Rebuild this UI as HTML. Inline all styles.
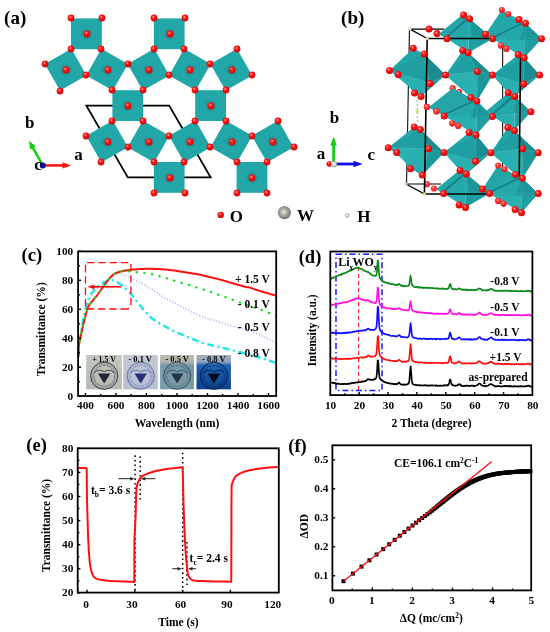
<!DOCTYPE html>
<html><head><meta charset="utf-8"><title>Figure</title>
<style>html,body{margin:0;padding:0;background:#fff}svg{display:block}</style></head>
<body>
<svg width="550" height="632" viewBox="0 0 550 632">
<defs>
<radialGradient id="gO" cx="40%" cy="35%" r="65%"><stop offset="0" stop-color="#ffb0a0"/><stop offset="0.35" stop-color="#ff1a1a"/><stop offset="1" stop-color="#d80000"/></radialGradient>
<radialGradient id="gOb" cx="40%" cy="35%" r="65%"><stop offset="0" stop-color="#ffc0b8"/><stop offset="0.35" stop-color="#ff3a38"/><stop offset="1" stop-color="#e42020"/></radialGradient>
<radialGradient id="gW" cx="45%" cy="45%" r="60%"><stop offset="0" stop-color="#f0f0e8"/><stop offset="0.45" stop-color="#a8a8a0"/><stop offset="1" stop-color="#6a6a62"/></radialGradient>
<radialGradient id="gH" cx="45%" cy="45%" r="60%"><stop offset="0" stop-color="#ffffff"/><stop offset="1" stop-color="#b0b0b0"/></radialGradient>
<radialGradient id="gWc" cx="50%" cy="50%" r="50%"><stop offset="0" stop-color="#2a8f92"/><stop offset="0.6" stop-color="#239ea0"/><stop offset="1" stop-color="#22a7a8" stop-opacity="0"/></radialGradient>
</defs>
<rect width="550" height="632" fill="#fff"/>
<g id="pa">
<polygon points="127.8,177.4 210.6,177.4 169.2,105.6 86.4,105.6" fill="none" stroke="#000" stroke-width="1.8"/>
<polygon points="71.0,18.4 101.8,18.4 101.8,49.2 71.0,49.2" fill="#22a7a8"/>
<circle cx="86.4" cy="33.8" r="7.5" fill="url(#gWc)"/>
<circle cx="86.7" cy="34.0" r="5.3" fill="#2b8a90" opacity="0.45"/>
<polygon points="153.8,18.4 184.6,18.4 184.6,49.2 153.8,49.2" fill="#22a7a8"/>
<circle cx="169.2" cy="33.8" r="7.5" fill="url(#gWc)"/>
<circle cx="169.5" cy="34.0" r="5.3" fill="#2b8a90" opacity="0.45"/>
<polygon points="71.4,48.8 86.6,75.4 60.0,90.6 44.8,64.0" fill="#22a7a8"/>
<circle cx="65.7" cy="69.7" r="7.5" fill="url(#gWc)"/>
<circle cx="66.0" cy="69.9" r="5.3" fill="#2b8a90" opacity="0.45"/>
<polygon points="101.4,48.8 128.0,64.0 112.8,90.6 86.2,75.4" fill="#22a7a8"/>
<circle cx="107.1" cy="69.7" r="7.5" fill="url(#gWc)"/>
<circle cx="107.4" cy="69.9" r="5.3" fill="#2b8a90" opacity="0.45"/>
<polygon points="154.2,48.8 169.4,75.4 142.8,90.6 127.6,64.0" fill="#22a7a8"/>
<circle cx="148.5" cy="69.7" r="7.5" fill="url(#gWc)"/>
<circle cx="148.8" cy="69.9" r="5.3" fill="#2b8a90" opacity="0.45"/>
<polygon points="184.2,48.8 210.8,64.0 195.6,90.6 169.0,75.4" fill="#22a7a8"/>
<circle cx="189.9" cy="69.7" r="7.5" fill="url(#gWc)"/>
<circle cx="190.2" cy="69.9" r="5.3" fill="#2b8a90" opacity="0.45"/>
<polygon points="237.0,48.8 252.2,75.4 225.6,90.6 210.4,64.0" fill="#22a7a8"/>
<circle cx="231.3" cy="69.7" r="7.5" fill="url(#gWc)"/>
<circle cx="231.6" cy="69.9" r="5.3" fill="#2b8a90" opacity="0.45"/>
<polygon points="112.4,90.2 143.2,90.2 143.2,121.0 112.4,121.0" fill="#22a7a8"/>
<circle cx="127.8" cy="105.6" r="7.5" fill="url(#gWc)"/>
<circle cx="128.1" cy="105.8" r="5.3" fill="#2b8a90" opacity="0.45"/>
<polygon points="195.2,90.2 226.0,90.2 226.0,121.0 195.2,121.0" fill="#22a7a8"/>
<circle cx="210.6" cy="105.6" r="7.5" fill="url(#gWc)"/>
<circle cx="210.9" cy="105.8" r="5.3" fill="#2b8a90" opacity="0.45"/>
<polygon points="112.8,120.6 128.0,147.2 101.4,162.4 86.2,135.8" fill="#22a7a8"/>
<circle cx="107.1" cy="141.5" r="7.5" fill="url(#gWc)"/>
<circle cx="107.4" cy="141.7" r="5.3" fill="#2b8a90" opacity="0.45"/>
<polygon points="142.8,120.6 169.4,135.8 154.2,162.4 127.6,147.2" fill="#22a7a8"/>
<circle cx="148.5" cy="141.5" r="7.5" fill="url(#gWc)"/>
<circle cx="148.8" cy="141.7" r="5.3" fill="#2b8a90" opacity="0.45"/>
<polygon points="195.6,120.6 210.8,147.2 184.2,162.4 169.0,135.8" fill="#22a7a8"/>
<circle cx="189.9" cy="141.5" r="7.5" fill="url(#gWc)"/>
<circle cx="190.2" cy="141.7" r="5.3" fill="#2b8a90" opacity="0.45"/>
<polygon points="225.6,120.6 252.2,135.8 237.0,162.4 210.4,147.2" fill="#22a7a8"/>
<circle cx="231.3" cy="141.5" r="7.5" fill="url(#gWc)"/>
<circle cx="231.6" cy="141.7" r="5.3" fill="#2b8a90" opacity="0.45"/>
<polygon points="278.4,120.6 293.6,147.2 267.0,162.4 251.8,135.8" fill="#22a7a8"/>
<circle cx="272.7" cy="141.5" r="7.5" fill="url(#gWc)"/>
<circle cx="273.0" cy="141.7" r="5.3" fill="#2b8a90" opacity="0.45"/>
<polygon points="153.8,162.0 184.6,162.0 184.6,192.8 153.8,192.8" fill="#22a7a8"/>
<circle cx="169.2" cy="177.4" r="7.5" fill="url(#gWc)"/>
<circle cx="169.5" cy="177.6" r="5.3" fill="#2b8a90" opacity="0.45"/>
<polygon points="236.6,162.0 267.4,162.0 267.4,192.8 236.6,192.8" fill="#22a7a8"/>
<circle cx="252.0" cy="177.4" r="7.5" fill="url(#gWc)"/>
<circle cx="252.3" cy="177.6" r="5.3" fill="#2b8a90" opacity="0.45"/>
<circle cx="45" cy="64" r="3.4" fill="url(#gO)"/>
<circle cx="60" cy="91" r="3.4" fill="url(#gO)"/>
<circle cx="66" cy="70" r="3.4" fill="url(#gO)"/>
<circle cx="71" cy="18" r="3.4" fill="url(#gO)"/>
<circle cx="71" cy="49" r="3.4" fill="url(#gO)"/>
<circle cx="86" cy="75" r="3.4" fill="url(#gO)"/>
<circle cx="86" cy="136" r="3.4" fill="url(#gO)"/>
<circle cx="87" cy="34" r="3.4" fill="url(#gO)"/>
<circle cx="101" cy="49" r="3.4" fill="url(#gO)"/>
<circle cx="101" cy="162" r="3.4" fill="url(#gO)"/>
<circle cx="102" cy="18" r="3.4" fill="url(#gO)"/>
<circle cx="108" cy="70" r="3.4" fill="url(#gO)"/>
<circle cx="108" cy="142" r="3.4" fill="url(#gO)"/>
<circle cx="112" cy="90" r="3.4" fill="url(#gO)"/>
<circle cx="112" cy="121" r="3.4" fill="url(#gO)"/>
<circle cx="128" cy="64" r="3.4" fill="url(#gO)"/>
<circle cx="128" cy="106" r="3.4" fill="url(#gO)"/>
<circle cx="128" cy="147" r="3.4" fill="url(#gO)"/>
<circle cx="143" cy="90" r="3.4" fill="url(#gO)"/>
<circle cx="143" cy="121" r="3.4" fill="url(#gO)"/>
<circle cx="149" cy="70" r="3.4" fill="url(#gO)"/>
<circle cx="149" cy="142" r="3.4" fill="url(#gO)"/>
<circle cx="154" cy="18" r="3.4" fill="url(#gO)"/>
<circle cx="154" cy="49" r="3.4" fill="url(#gO)"/>
<circle cx="154" cy="162" r="3.4" fill="url(#gO)"/>
<circle cx="154" cy="193" r="3.4" fill="url(#gO)"/>
<circle cx="169" cy="75" r="3.4" fill="url(#gO)"/>
<circle cx="169" cy="136" r="3.4" fill="url(#gO)"/>
<circle cx="170" cy="34" r="3.4" fill="url(#gO)"/>
<circle cx="170" cy="178" r="3.4" fill="url(#gO)"/>
<circle cx="184" cy="49" r="3.4" fill="url(#gO)"/>
<circle cx="184" cy="162" r="3.4" fill="url(#gO)"/>
<circle cx="185" cy="18" r="3.4" fill="url(#gO)"/>
<circle cx="185" cy="193" r="3.4" fill="url(#gO)"/>
<circle cx="190" cy="70" r="3.4" fill="url(#gO)"/>
<circle cx="190" cy="142" r="3.4" fill="url(#gO)"/>
<circle cx="195" cy="90" r="3.4" fill="url(#gO)"/>
<circle cx="195" cy="121" r="3.4" fill="url(#gO)"/>
<circle cx="210" cy="64" r="3.4" fill="url(#gO)"/>
<circle cx="210" cy="147" r="3.4" fill="url(#gO)"/>
<circle cx="211" cy="106" r="3.4" fill="url(#gO)"/>
<circle cx="226" cy="90" r="3.4" fill="url(#gO)"/>
<circle cx="226" cy="121" r="3.4" fill="url(#gO)"/>
<circle cx="232" cy="70" r="3.4" fill="url(#gO)"/>
<circle cx="232" cy="142" r="3.4" fill="url(#gO)"/>
<circle cx="237" cy="49" r="3.4" fill="url(#gO)"/>
<circle cx="237" cy="162" r="3.4" fill="url(#gO)"/>
<circle cx="237" cy="193" r="3.4" fill="url(#gO)"/>
<circle cx="252" cy="75" r="3.4" fill="url(#gO)"/>
<circle cx="252" cy="136" r="3.4" fill="url(#gO)"/>
<circle cx="252" cy="178" r="3.4" fill="url(#gO)"/>
<circle cx="267" cy="162" r="3.4" fill="url(#gO)"/>
<circle cx="267" cy="193" r="3.4" fill="url(#gO)"/>
<circle cx="273" cy="142" r="3.4" fill="url(#gO)"/>
<circle cx="278" cy="121" r="3.4" fill="url(#gO)"/>
<circle cx="294" cy="147" r="3.4" fill="url(#gO)"/>
</g>
<g id="axa">
<line x1="42.8" y1="165.4" x2="64" y2="165.4" stroke="#ff1010" stroke-width="2.5"/><polygon points="71,165.4 62.5,162.2 62.5,168.6" fill="#ff1010"/>
<line x1="42.8" y1="165.4" x2="32.5" y2="147" stroke="#10d010" stroke-width="2.5"/><polygon points="29,140.8 30.2,149.6 35.8,146.4" fill="#10d010"/>
<circle cx="42.8" cy="165.4" r="3" fill="#0a0a90"/>
</g>
<text x="29.8" y="128.0" font-size="17" text-anchor="middle" font-family="Liberation Serif, serif" font-weight="bold" >b</text>
<text x="78.4" y="159.5" font-size="17" text-anchor="middle" font-family="Liberation Serif, serif" font-weight="bold" >a</text>
<text x="38.0" y="169.5" font-size="17" text-anchor="middle" font-family="Liberation Serif, serif" font-weight="bold" >c</text>
<text x="15.2" y="23.5" font-size="19" text-anchor="middle" font-family="Liberation Serif, serif" font-weight="bold" >(a)</text>
<text x="352.7" y="23.8" font-size="19" text-anchor="middle" font-family="Liberation Serif, serif" font-weight="bold" >(b)</text>
<circle cx="220.7" cy="214.9" r="3.2" fill="url(#gO)"/>
<circle cx="284.4" cy="212.6" r="6.6" fill="url(#gW)"/>
<circle cx="347.3" cy="215.6" r="2.1" fill="url(#gH)" stroke="#999" stroke-width="0.5"/>
<text x="236.3" y="221.5" font-size="17" text-anchor="middle" font-family="Liberation Serif, serif" font-weight="bold" >O</text>
<text x="305.5" y="220.5" font-size="17" text-anchor="middle" font-family="Liberation Serif, serif" font-weight="bold" >W</text>
<text x="363.8" y="221.5" font-size="17" text-anchor="middle" font-family="Liberation Serif, serif" font-weight="bold" >H</text>
<g id="pb">
<line x1="410.0" y1="29.1" x2="444.0" y2="29.1" stroke="#000" stroke-width="1.2" />
<line x1="409.5" y1="29.1" x2="406.5" y2="184.0" stroke="#222" stroke-width="1.2" />
<line x1="406.0" y1="184.0" x2="441.0" y2="184.0" stroke="#000" stroke-width="1.2" />
<line x1="502.6" y1="46.0" x2="502.6" y2="185.0" stroke="#222" stroke-width="1.2" />
<circle cx="429.0" cy="29.1" r="3.5" fill="url(#gO)"/>
<circle cx="437.0" cy="33.6" r="3.5" fill="url(#gO)"/>
<polygon points="492.7,38.7 525.5,23.3 501.8,10.0 485.5,34.2" fill="#23a6a8" />
<polygon points="492.7,38.7 525.5,23.3 523.2,22.0 490.4,37.4" fill="#16838a" />
<polygon points="492.7,38.7 525.5,23.3 524.2,57.8" fill="#28b0b1" />
<polygon points="525.5,23.3 541.5,38.7 524.2,57.8" fill="#1f9ea1" />
<polygon points="492.7,38.7 525.5,23.3 519.1,40.5" fill="#23a7a8" />
<polygon points="525.5,23.3 541.5,38.7 519.1,40.5" fill="#1b9699" />
<line x1="525.5" y1="23.3" x2="524.2" y2="57.8" stroke="#5cc4c2" stroke-width="0.5" opacity="0.6"/>
<line x1="492.7" y1="38.7" x2="541.5" y2="38.7" stroke="#5cc4c2" stroke-width="0.5" opacity="0.5"/>
<polygon points="492.5,116.3 515.0,96.5 508.3,92.7 485.3,111.8" fill="#23a6a8" />
<polygon points="492.5,116.3 515.0,96.5 512.7,95.2 490.2,115.0" fill="#16838a" />
<polygon points="492.5,116.3 515.0,96.5 514.4,130.3" fill="#28b0b1" />
<polygon points="515.0,96.5 530.9,111.8 514.4,130.3" fill="#1f9ea1" />
<polygon points="492.5,116.3 515.0,96.5 513.7,113.4" fill="#23a7a8" />
<polygon points="515.0,96.5 530.9,111.8 513.7,113.4" fill="#1b9699" />
<line x1="515.0" y1="96.5" x2="514.4" y2="130.3" stroke="#5cc4c2" stroke-width="0.5" opacity="0.6"/>
<line x1="492.5" y1="116.3" x2="530.9" y2="111.8" stroke="#5cc4c2" stroke-width="0.5" opacity="0.5"/>
<polygon points="489.5,193.7 522.0,178.3 497.8,165.5 482.4,189.3" fill="#23a6a8" />
<polygon points="489.5,193.7 522.0,178.3 519.7,177.0 487.2,192.4" fill="#16838a" />
<polygon points="489.5,193.7 522.0,178.3 521.4,212.4" fill="#28b0b1" />
<polygon points="522.0,178.3 537.9,193.7 521.4,212.4" fill="#1f9ea1" />
<polygon points="489.5,193.7 522.0,178.3 515.7,195.4" fill="#23a7a8" />
<polygon points="522.0,178.3 537.9,193.7 515.7,195.4" fill="#1b9699" />
<line x1="522.0" y1="178.3" x2="521.4" y2="212.4" stroke="#5cc4c2" stroke-width="0.5" opacity="0.6"/>
<line x1="489.5" y1="193.7" x2="537.9" y2="193.7" stroke="#5cc4c2" stroke-width="0.5" opacity="0.5"/>
<circle cx="501.8" cy="10.0" r="3.1" fill="url(#gOb)"/>
<circle cx="508.2" cy="14.0" r="3.1" fill="url(#gOb)"/>
<circle cx="501.0" cy="45.5" r="3.1" fill="url(#gOb)"/>
<circle cx="506.4" cy="48.7" r="3.1" fill="url(#gOb)"/>
<circle cx="452.7" cy="88.2" r="3.1" fill="url(#gOb)"/>
<circle cx="459.1" cy="91.8" r="3.1" fill="url(#gOb)"/>
<circle cx="452.4" cy="123.3" r="3.1" fill="url(#gOb)"/>
<circle cx="458.2" cy="125.8" r="3.1" fill="url(#gOb)"/>
<circle cx="498.2" cy="165.5" r="3.1" fill="url(#gOb)"/>
<circle cx="504.5" cy="169.1" r="3.1" fill="url(#gOb)"/>
<circle cx="498.2" cy="200.9" r="3.1" fill="url(#gOb)"/>
<circle cx="503.6" cy="203.6" r="3.1" fill="url(#gOb)"/>
<circle cx="426.9" cy="106.9" r="3.1" fill="url(#gOb)"/>
<circle cx="436.4" cy="111.3" r="3.1" fill="url(#gOb)"/>
<circle cx="485.5" cy="34.2" r="3.1" fill="url(#gOb)"/>
<circle cx="482.4" cy="189.1" r="3.1" fill="url(#gOb)"/>
<circle cx="426.9" cy="184.2" r="3.1" fill="url(#gOb)"/>
<circle cx="434.0" cy="188.5" r="3.1" fill="url(#gOb)"/>
<line x1="417.3" y1="100.0" x2="417.3" y2="124.0" stroke="#666" stroke-width="0.6" stroke-dasharray="2,2"/>
<circle cx="417.3" cy="111.8" r="1.6" fill="#e8e870" stroke="#aaa" stroke-width="0.4"/>
<polygon points="389.5,70.4 413.3,48.2 424.2,54.0 445.5,75.1 430.0,83.6 421.0,96.4 414.5,93.1 398.2,74.5" fill="#22a7a8" />
<polygon points="389.5,70.4 424.2,54.0 430.0,83.6" fill="#1f9fa1" />
<polygon points="424.2,54.0 445.5,75.1 430.0,83.6" fill="#198d91" />
<polygon points="389.5,70.4 430.0,83.6 421.0,96.4" fill="#29b1b2" />
<polygon points="430.0,83.6 445.5,75.1 421.0,96.4" fill="#1c979a" />
<line x1="430.0" y1="83.6" x2="389.5" y2="70.4" stroke="#5cc4c2" stroke-width="0.5" opacity="0.7"/>
<line x1="430.0" y1="83.6" x2="445.5" y2="75.1" stroke="#5cc4c2" stroke-width="0.5" opacity="0.7"/>
<line x1="430.0" y1="83.6" x2="424.2" y2="54.0" stroke="#5cc4c2" stroke-width="0.5" opacity="0.7"/>
<line x1="430.0" y1="83.6" x2="421.0" y2="96.4" stroke="#5cc4c2" stroke-width="0.5" opacity="0.7"/>
<polygon points="388.2,147.8 414.2,126.9 420.4,129.6 444.0,152.4 422.2,175.1 410.5,168.7 396.7,152.4" fill="#22a7a8" />
<polygon points="388.2,147.8 420.4,129.6 428.7,148.7" fill="#1f9fa1" />
<polygon points="420.4,129.6 444.0,152.4 428.7,148.7" fill="#198d91" />
<polygon points="388.2,147.8 428.7,148.7 422.2,175.1" fill="#29b1b2" />
<polygon points="428.7,148.7 444.0,152.4 422.2,175.1" fill="#1c979a" />
<line x1="428.7" y1="148.7" x2="388.2" y2="147.8" stroke="#5cc4c2" stroke-width="0.5" opacity="0.7"/>
<line x1="428.7" y1="148.7" x2="444.0" y2="152.4" stroke="#5cc4c2" stroke-width="0.5" opacity="0.7"/>
<line x1="428.7" y1="148.7" x2="420.4" y2="129.6" stroke="#5cc4c2" stroke-width="0.5" opacity="0.7"/>
<line x1="428.7" y1="148.7" x2="422.2" y2="175.1" stroke="#5cc4c2" stroke-width="0.5" opacity="0.7"/>
<polygon points="447.0,38.7 469.6,18.7 462.6,14.5 438.5,34.2" fill="#23a6a8" />
<polygon points="447.0,38.7 469.6,18.7 467.3,17.4 444.7,37.4" fill="#16838a" />
<polygon points="447.0,38.7 469.6,18.7 468.2,52.7" fill="#28b0b1" />
<polygon points="469.6,18.7 492.7,38.7 468.2,52.7" fill="#1f9ea1" />
<polygon points="447.0,38.7 469.6,18.7 471.9,35.7" fill="#23a7a8" />
<polygon points="469.6,18.7 492.7,38.7 471.9,35.7" fill="#1b9699" />
<line x1="469.6" y1="18.7" x2="468.2" y2="52.7" stroke="#5cc4c2" stroke-width="0.5" opacity="0.6"/>
<line x1="447.0" y1="38.7" x2="492.7" y2="38.7" stroke="#5cc4c2" stroke-width="0.5" opacity="0.5"/>
<polygon points="445.5,75.1 462.7,50.5 468.2,52.7 492.4,75.1 476.9,100.9 470.9,97.6" fill="#22a7a8" />
<polygon points="445.5,75.1 468.2,52.7 477.3,71.5" fill="#1f9fa1" />
<polygon points="468.2,52.7 492.4,75.1 477.3,71.5" fill="#198d91" />
<polygon points="445.5,75.1 477.3,71.5 476.9,100.9" fill="#29b1b2" />
<polygon points="477.3,71.5 492.4,75.1 476.9,100.9" fill="#1c979a" />
<line x1="477.3" y1="71.5" x2="445.5" y2="75.1" stroke="#5cc4c2" stroke-width="0.5" opacity="0.7"/>
<line x1="477.3" y1="71.5" x2="492.4" y2="75.1" stroke="#5cc4c2" stroke-width="0.5" opacity="0.7"/>
<line x1="477.3" y1="71.5" x2="468.2" y2="52.7" stroke="#5cc4c2" stroke-width="0.5" opacity="0.7"/>
<line x1="477.3" y1="71.5" x2="476.9" y2="100.9" stroke="#5cc4c2" stroke-width="0.5" opacity="0.7"/>
<polygon points="492.4,75.1 518.2,54.5 524.2,57.8 539.6,75.1 523.6,84.0 514.9,96.4 508.2,92.7" fill="#22a7a8" />
<polygon points="492.4,75.1 524.2,57.8 523.6,84.0" fill="#1f9fa1" />
<polygon points="524.2,57.8 539.6,75.1 523.6,84.0" fill="#198d91" />
<polygon points="492.4,75.1 523.6,84.0 514.9,96.4" fill="#29b1b2" />
<polygon points="523.6,84.0 539.6,75.1 514.9,96.4" fill="#1c979a" />
<line x1="523.6" y1="84.0" x2="492.4" y2="75.1" stroke="#5cc4c2" stroke-width="0.5" opacity="0.7"/>
<line x1="523.6" y1="84.0" x2="539.6" y2="75.1" stroke="#5cc4c2" stroke-width="0.5" opacity="0.7"/>
<line x1="523.6" y1="84.0" x2="524.2" y2="57.8" stroke="#5cc4c2" stroke-width="0.5" opacity="0.7"/>
<line x1="523.6" y1="84.0" x2="514.9" y2="96.4" stroke="#5cc4c2" stroke-width="0.5" opacity="0.7"/>
<polygon points="444.2,116.0 476.9,100.9 452.7,88.2 428.3,107.6" fill="#23a6a8" />
<polygon points="444.2,116.0 476.9,100.9 474.6,99.6 441.9,114.7" fill="#16838a" />
<polygon points="444.2,116.0 476.9,100.9 476.0,134.9" fill="#28b0b1" />
<polygon points="476.9,100.9 492.4,116.4 476.0,134.9" fill="#1f9ea1" />
<polygon points="444.2,116.0 476.9,100.9 470.3,117.9" fill="#23a7a8" />
<polygon points="476.9,100.9 492.4,116.4 470.3,117.9" fill="#1b9699" />
<line x1="476.9" y1="100.9" x2="476.0" y2="134.9" stroke="#5cc4c2" stroke-width="0.5" opacity="0.6"/>
<line x1="444.2" y1="116.0" x2="492.4" y2="116.4" stroke="#5cc4c2" stroke-width="0.5" opacity="0.5"/>
<polygon points="444.0,152.4 469.1,132.4 476.0,135.1 490.9,152.7 475.5,161.3 466.4,174.0 460.0,170.4" fill="#22a7a8" />
<polygon points="444.0,152.4 476.0,135.1 475.5,161.3" fill="#1f9fa1" />
<polygon points="476.0,135.1 490.9,152.7 475.5,161.3" fill="#198d91" />
<polygon points="444.0,152.4 475.5,161.3 466.4,174.0" fill="#29b1b2" />
<polygon points="475.5,161.3 490.9,152.7 466.4,174.0" fill="#1c979a" />
<line x1="475.5" y1="161.3" x2="444.0" y2="152.4" stroke="#5cc4c2" stroke-width="0.5" opacity="0.7"/>
<line x1="475.5" y1="161.3" x2="490.9" y2="152.7" stroke="#5cc4c2" stroke-width="0.5" opacity="0.7"/>
<line x1="475.5" y1="161.3" x2="476.0" y2="135.1" stroke="#5cc4c2" stroke-width="0.5" opacity="0.7"/>
<line x1="475.5" y1="161.3" x2="466.4" y2="174.0" stroke="#5cc4c2" stroke-width="0.5" opacity="0.7"/>
<polygon points="490.9,152.7 507.8,127.6 514.5,130.9 538.2,152.7 522.4,178.2 515.5,174.5" fill="#22a7a8" />
<polygon points="490.9,152.7 514.5,130.9 522.7,148.7" fill="#1f9fa1" />
<polygon points="514.5,130.9 538.2,152.7 522.7,148.7" fill="#198d91" />
<polygon points="490.9,152.7 522.7,148.7 522.4,178.2" fill="#29b1b2" />
<polygon points="522.7,148.7 538.2,152.7 522.4,178.2" fill="#1c979a" />
<line x1="522.7" y1="148.7" x2="490.9" y2="152.7" stroke="#5cc4c2" stroke-width="0.5" opacity="0.7"/>
<line x1="522.7" y1="148.7" x2="538.2" y2="152.7" stroke="#5cc4c2" stroke-width="0.5" opacity="0.7"/>
<line x1="522.7" y1="148.7" x2="514.5" y2="130.9" stroke="#5cc4c2" stroke-width="0.5" opacity="0.7"/>
<line x1="522.7" y1="148.7" x2="522.4" y2="178.2" stroke="#5cc4c2" stroke-width="0.5" opacity="0.7"/>
<polygon points="443.6,193.6 466.4,174.0 459.6,170.0 436.0,189.3" fill="#23a6a8" />
<polygon points="443.6,193.6 466.4,174.0 464.1,172.7 441.3,192.3" fill="#16838a" />
<polygon points="443.6,193.6 466.4,174.0 465.5,207.6" fill="#28b0b1" />
<polygon points="466.4,174.0 489.6,193.6 465.5,207.6" fill="#1f9ea1" />
<polygon points="443.6,193.6 466.4,174.0 468.6,190.8" fill="#23a7a8" />
<polygon points="466.4,174.0 489.6,193.6 468.6,190.8" fill="#1b9699" />
<line x1="466.4" y1="174.0" x2="465.5" y2="207.6" stroke="#5cc4c2" stroke-width="0.5" opacity="0.6"/>
<line x1="443.6" y1="193.6" x2="489.6" y2="193.6" stroke="#5cc4c2" stroke-width="0.5" opacity="0.5"/>
<line x1="427.2" y1="38.5" x2="493.0" y2="38.5" stroke="#000" stroke-width="1.6" />
<line x1="427.2" y1="38.5" x2="424.4" y2="194.0" stroke="#000" stroke-width="1.6" />
<line x1="424.4" y1="194.0" x2="490.0" y2="194.0" stroke="#000" stroke-width="1.6" />
<line x1="520.5" y1="58.0" x2="519.2" y2="178.0" stroke="#000" stroke-width="1.6" />
<line x1="410.0" y1="29.1" x2="427.2" y2="38.5" stroke="#000" stroke-width="1.4" />
<line x1="406.0" y1="184.0" x2="424.4" y2="194.0" stroke="#000" stroke-width="1.4" />
<polygon points="492.7,38.7 525.5,23.3 518.5,19.2 485.5,34.2" fill="#23a6a8" />
<polygon points="492.7,38.7 525.5,23.3 523.2,22.0 490.4,37.4" fill="#16838a" />
<polygon points="492.7,38.7 525.5,23.3 524.2,57.8" fill="#28b0b1" />
<polygon points="525.5,23.3 541.5,38.7 524.2,57.8" fill="#1f9ea1" />
<polygon points="492.7,38.7 525.5,23.3 519.1,40.5" fill="#23a7a8" />
<polygon points="525.5,23.3 541.5,38.7 519.1,40.5" fill="#1b9699" />
<line x1="525.5" y1="23.3" x2="524.2" y2="57.8" stroke="#5cc4c2" stroke-width="0.5" opacity="0.6"/>
<line x1="492.7" y1="38.7" x2="541.5" y2="38.7" stroke="#5cc4c2" stroke-width="0.5" opacity="0.5"/>
<polygon points="489.5,193.7 522.0,178.3 515.0,174.2 482.4,189.3" fill="#23a6a8" />
<polygon points="489.5,193.7 522.0,178.3 519.7,177.0 487.2,192.4" fill="#16838a" />
<polygon points="489.5,193.7 522.0,178.3 521.4,212.4" fill="#28b0b1" />
<polygon points="522.0,178.3 537.9,193.7 521.4,212.4" fill="#1f9ea1" />
<polygon points="489.5,193.7 522.0,178.3 515.7,195.4" fill="#23a7a8" />
<polygon points="522.0,178.3 537.9,193.7 515.7,195.4" fill="#1b9699" />
<line x1="522.0" y1="178.3" x2="521.4" y2="212.4" stroke="#5cc4c2" stroke-width="0.5" opacity="0.6"/>
<line x1="489.5" y1="193.7" x2="537.9" y2="193.7" stroke="#5cc4c2" stroke-width="0.5" opacity="0.5"/>
<circle cx="410" cy="29.1" r="1.5" fill="#f4f4a0" stroke="#999" stroke-width="0.4"/>
<circle cx="427.2" cy="38.5" r="1.5" fill="#f4f4a0" stroke="#999" stroke-width="0.4"/>
<circle cx="406" cy="184" r="1.5" fill="#f4f4a0" stroke="#999" stroke-width="0.4"/>
<circle cx="424.4" cy="194" r="1.5" fill="#f4f4a0" stroke="#999" stroke-width="0.4"/>
<circle cx="501.0" cy="45.5" r="3.1" fill="url(#gOb)"/>
<circle cx="506.4" cy="48.7" r="3.1" fill="url(#gOb)"/>
<circle cx="452.4" cy="123.3" r="3.1" fill="url(#gOb)"/>
<circle cx="458.2" cy="125.8" r="3.1" fill="url(#gOb)"/>
<circle cx="498.2" cy="200.9" r="3.1" fill="url(#gOb)"/>
<circle cx="503.6" cy="203.6" r="3.1" fill="url(#gOb)"/>
<circle cx="436.4" cy="111.3" r="3.1" fill="url(#gOb)"/>
<circle cx="426.9" cy="106.9" r="3.1" fill="url(#gOb)"/>
<circle cx="485.5" cy="34.2" r="3.5" fill="url(#gO)"/>
<circle cx="482.4" cy="189.1" r="3.5" fill="url(#gO)"/>
<circle cx="447.0" cy="38.7" r="3.5" fill="url(#gO)"/>
<circle cx="463.6" cy="15.0" r="3.5" fill="url(#gO)"/>
<circle cx="469.6" cy="18.7" r="3.5" fill="url(#gO)"/>
<circle cx="519.0" cy="19.6" r="3.5" fill="url(#gO)"/>
<circle cx="525.5" cy="23.3" r="3.5" fill="url(#gO)"/>
<circle cx="492.7" cy="38.7" r="3.5" fill="url(#gO)"/>
<circle cx="541.5" cy="38.7" r="3.5" fill="url(#gO)"/>
<circle cx="413.3" cy="48.2" r="3.5" fill="url(#gO)"/>
<circle cx="424.2" cy="54.0" r="3.5" fill="url(#gO)"/>
<circle cx="389.5" cy="70.4" r="3.5" fill="url(#gO)"/>
<circle cx="398.2" cy="74.5" r="3.5" fill="url(#gO)"/>
<circle cx="445.5" cy="75.1" r="3.5" fill="url(#gO)"/>
<circle cx="430.0" cy="83.6" r="3.5" fill="url(#gO)"/>
<circle cx="414.5" cy="93.1" r="3.5" fill="url(#gO)"/>
<circle cx="421.0" cy="96.4" r="3.5" fill="url(#gO)"/>
<circle cx="468.2" cy="52.7" r="3.5" fill="url(#gO)"/>
<circle cx="462.7" cy="50.5" r="3.5" fill="url(#gO)"/>
<circle cx="518.2" cy="54.5" r="3.5" fill="url(#gO)"/>
<circle cx="524.2" cy="57.8" r="3.5" fill="url(#gO)"/>
<circle cx="477.3" cy="71.5" r="3.5" fill="url(#gO)"/>
<circle cx="492.4" cy="75.1" r="3.5" fill="url(#gO)"/>
<circle cx="539.6" cy="75.1" r="3.5" fill="url(#gO)"/>
<circle cx="523.6" cy="84.0" r="3.5" fill="url(#gO)"/>
<circle cx="470.9" cy="97.6" r="3.5" fill="url(#gO)"/>
<circle cx="476.9" cy="100.9" r="3.5" fill="url(#gO)"/>
<circle cx="508.2" cy="92.7" r="3.5" fill="url(#gO)"/>
<circle cx="514.9" cy="96.4" r="3.5" fill="url(#gO)"/>
<circle cx="444.2" cy="116.0" r="3.5" fill="url(#gO)"/>
<circle cx="492.4" cy="116.4" r="3.5" fill="url(#gO)"/>
<circle cx="530.9" cy="111.8" r="3.5" fill="url(#gO)"/>
<circle cx="469.1" cy="132.4" r="3.5" fill="url(#gO)"/>
<circle cx="476.0" cy="135.1" r="3.5" fill="url(#gO)"/>
<circle cx="507.8" cy="127.6" r="3.5" fill="url(#gO)"/>
<circle cx="514.5" cy="130.5" r="3.5" fill="url(#gO)"/>
<circle cx="414.2" cy="126.9" r="3.5" fill="url(#gO)"/>
<circle cx="420.4" cy="129.6" r="3.5" fill="url(#gO)"/>
<circle cx="388.2" cy="147.8" r="3.5" fill="url(#gO)"/>
<circle cx="396.7" cy="152.4" r="3.5" fill="url(#gO)"/>
<circle cx="428.7" cy="148.7" r="3.5" fill="url(#gO)"/>
<circle cx="444.0" cy="152.4" r="3.5" fill="url(#gO)"/>
<circle cx="490.9" cy="152.7" r="3.5" fill="url(#gO)"/>
<circle cx="522.7" cy="148.7" r="3.5" fill="url(#gO)"/>
<circle cx="538.2" cy="152.7" r="3.5" fill="url(#gO)"/>
<circle cx="475.5" cy="161.3" r="3.5" fill="url(#gO)"/>
<circle cx="410.5" cy="168.7" r="3.5" fill="url(#gO)"/>
<circle cx="422.2" cy="175.1" r="3.5" fill="url(#gO)"/>
<circle cx="460.0" cy="170.4" r="3.5" fill="url(#gO)"/>
<circle cx="466.4" cy="174.0" r="3.5" fill="url(#gO)"/>
<circle cx="515.5" cy="174.5" r="3.5" fill="url(#gO)"/>
<circle cx="522.4" cy="178.2" r="3.5" fill="url(#gO)"/>
<circle cx="443.6" cy="193.6" r="3.5" fill="url(#gO)"/>
<circle cx="489.6" cy="193.6" r="3.5" fill="url(#gO)"/>
<circle cx="538.2" cy="193.6" r="3.5" fill="url(#gO)"/>
<circle cx="459.1" cy="204.9" r="3.5" fill="url(#gO)"/>
<circle cx="465.5" cy="207.6" r="3.5" fill="url(#gO)"/>
<circle cx="515.1" cy="209.6" r="3.5" fill="url(#gO)"/>
<circle cx="521.5" cy="212.7" r="3.5" fill="url(#gO)"/>
</g>
<line x1="333.6" y1="164" x2="333.6" y2="144" stroke="#10d010" stroke-width="2.8"/><polygon points="333.6,136.4 330.4,145.5 336.8,145.5" fill="#10d010"/>
<line x1="333.6" y1="164" x2="355" y2="164" stroke="#1010e0" stroke-width="2.8"/><polygon points="362.7,164 353.5,160.8 353.5,167.2" fill="#1010e0"/>
<circle cx="329.2" cy="164" r="2.8" fill="url(#gO)"/>
<circle cx="334" cy="164" r="3" fill="url(#gH)" stroke="#888" stroke-width="0.5"/>
<text x="334.5" y="122.5" font-size="17" text-anchor="middle" font-family="Liberation Serif, serif" font-weight="bold" >b</text>
<text x="321.0" y="159.0" font-size="17" text-anchor="middle" font-family="Liberation Serif, serif" font-weight="bold" >a</text>
<text x="371.3" y="159.5" font-size="17" text-anchor="middle" font-family="Liberation Serif, serif" font-weight="bold" >c</text>
<g id="pc">
<path d="M78.3,357.0 L78.3,356.5 L78.4,355.7 L78.4,354.8 L78.5,353.9 L78.5,352.9 L78.6,351.8 L78.6,350.9 L78.7,350.0 L78.7,349.3 L78.7,348.8 L78.7,348.4 L78.6,348.0 L78.6,347.5 L78.7,346.7 L78.9,345.6 L79.1,344.1 L79.5,342.1 L79.9,339.6 L80.5,336.8 L81.1,333.7 L81.7,330.6 L82.4,327.5 L83.0,324.6 L83.6,322.0 L84.2,319.6 L84.7,317.3 L85.3,315.0 L85.8,312.9 L86.4,310.8 L87.0,308.8 L87.6,306.9 L88.2,305.0 L88.8,303.2 L89.4,301.5 L90.1,299.9 L90.7,298.4 L91.4,297.0 L92.1,295.6 L92.8,294.3 L93.6,293.0 L94.4,291.8 L95.3,290.8 L96.2,289.8 L97.1,288.9 L98.0,288.0 L99.0,287.2 L99.9,286.4 L100.9,285.5 L101.9,284.6 L102.9,283.7 L104.0,282.9 L105.0,282.0 L106.1,281.2 L107.1,280.4 L108.1,279.7 L109.1,279.0 L110.0,278.4 L111.0,277.8 L111.9,277.2 L112.8,276.7 L113.6,276.2 L114.4,275.7 L115.2,275.3 L116.0,275.0 L116.7,274.7 L117.2,274.4 L117.7,274.2 L118.2,274.0 L118.7,273.8 L119.3,273.8 L120.0,273.8 L120.9,274.0 L122.0,274.3 L123.2,274.7 L124.5,275.3 L126.0,275.9 L127.4,276.6 L128.9,277.3 L130.4,277.9 L131.8,278.6 L133.2,279.2 L134.5,279.9 L135.9,280.5 L137.2,281.2 L138.6,281.9 L140.0,282.6 L141.3,283.3 L142.7,284.0 L144.1,284.8 L145.4,285.5 L146.8,286.3 L148.1,287.1 L149.5,288.0 L150.9,288.8 L152.2,289.6 L153.6,290.5 L155.0,291.4 L156.4,292.3 L157.8,293.3 L159.3,294.3 L160.7,295.2 L162.0,296.1 L163.3,297.0 L164.5,297.7 L165.5,298.3 L166.4,298.8 L167.2,299.2 L167.9,299.5 L168.7,299.9 L169.6,300.3 L170.7,300.8 L172.0,301.5 L173.6,302.3 L175.4,303.3 L177.4,304.4 L179.5,305.5 L181.6,306.7 L183.8,307.9 L185.9,309.0 L188.0,310.0 L190.0,311.0 L192.0,311.9 L194.0,312.9 L196.0,313.8 L198.0,314.7 L200.0,315.6 L202.0,316.4 L204.0,317.2 L206.0,317.9 L208.0,318.6 L210.0,319.2 L212.0,319.7 L214.0,320.3 L216.0,320.8 L218.0,321.4 L220.0,322.0 L222.0,322.6 L224.0,323.3 L226.0,324.0 L228.0,324.6 L230.0,325.3 L232.0,326.0 L234.0,326.6 L236.0,327.2 L237.9,327.7 L239.8,328.1 L241.6,328.4 L243.5,328.8 L245.4,329.2 L247.4,329.7 L249.6,330.3 L252.0,331.2 L254.8,332.4 L258.0,333.9 L261.5,335.6 L265.0,337.3 L268.4,339.1 L271.5,340.7 L274.1,342.0 L276.0,343.0" fill="none" stroke="#bebef0" stroke-width="1.8" stroke-linejoin="round" stroke-dasharray="1.3,1.7"/>
<path d="M78.3,357.0 L78.3,356.5 L78.4,355.7 L78.4,354.8 L78.5,353.9 L78.5,352.9 L78.6,351.8 L78.6,350.9 L78.7,350.0 L78.7,349.2 L78.8,348.4 L78.8,347.6 L78.9,346.9 L78.9,346.2 L79.0,345.5 L79.0,344.8 L79.1,344.1 L79.2,343.6 L79.2,343.3 L79.3,343.0 L79.4,342.8 L79.4,342.4 L79.6,341.8 L79.8,340.9 L80.0,339.5 L80.3,337.6 L80.7,335.2 L81.1,332.4 L81.6,329.4 L82.1,326.4 L82.6,323.3 L83.1,320.4 L83.6,317.7 L84.1,315.2 L84.7,312.7 L85.2,310.2 L85.8,307.8 L86.4,305.5 L87.0,303.3 L87.6,301.3 L88.2,299.5 L88.8,297.9 L89.4,296.5 L90.1,295.3 L90.7,294.3 L91.4,293.3 L92.1,292.4 L92.8,291.4 L93.6,290.5 L94.4,289.6 L95.3,288.7 L96.2,287.8 L97.1,287.0 L98.0,286.2 L99.0,285.4 L99.9,284.7 L100.9,284.1 L101.9,283.5 L103.0,282.9 L104.0,282.4 L105.1,281.9 L106.2,281.4 L107.2,281.0 L108.2,280.7 L109.1,280.5 L109.9,280.3 L110.6,280.2 L111.2,280.2 L111.8,280.2 L112.4,280.3 L113.0,280.5 L113.7,280.7 L114.5,281.0 L115.4,281.4 L116.3,281.8 L117.3,282.3 L118.4,282.9 L119.4,283.6 L120.5,284.3 L121.6,285.1 L122.7,285.9 L123.8,286.8 L124.9,287.8 L126.0,288.8 L127.1,289.9 L128.2,291.1 L129.4,292.3 L130.6,293.6 L131.8,295.0 L133.1,296.5 L134.4,298.1 L135.8,299.9 L137.1,301.7 L138.5,303.5 L139.9,305.3 L141.3,307.0 L142.7,308.6 L144.0,310.1 L145.2,311.5 L146.5,312.9 L147.7,314.2 L149.0,315.6 L150.3,316.9 L151.9,318.2 L153.6,319.5 L155.6,320.9 L157.7,322.2 L160.1,323.6 L162.5,325.0 L164.9,326.3 L167.4,327.6 L169.8,328.8 L172.0,330.0 L174.1,331.1 L176.2,332.1 L178.2,333.0 L180.2,333.9 L182.1,334.7 L184.1,335.6 L186.0,336.4 L188.0,337.2 L190.0,338.0 L192.0,338.8 L194.0,339.6 L196.0,340.4 L198.0,341.1 L200.0,341.9 L202.0,342.6 L204.0,343.2 L206.0,343.8 L208.0,344.3 L210.0,344.8 L212.0,345.3 L214.0,345.8 L216.0,346.2 L218.0,346.7 L220.0,347.2 L222.0,347.7 L224.0,348.2 L226.0,348.7 L228.0,349.2 L230.0,349.7 L232.0,350.2 L234.0,350.7 L236.0,351.2 L237.9,351.7 L239.8,352.1 L241.6,352.5 L243.5,353.0 L245.4,353.4 L247.4,354.0 L249.6,354.5 L252.0,355.2 L254.8,356.0 L258.0,357.0 L261.5,358.1 L265.0,359.2 L268.4,360.3 L271.5,361.3 L274.1,362.1 L276.0,362.7" fill="none" stroke="#1fe6e6" stroke-width="2.4" stroke-linejoin="round" stroke-dasharray="7,3.5,2,3.5"/>
<path d="M78.3,357.0 L78.3,356.5 L78.4,355.7 L78.4,354.8 L78.5,353.9 L78.5,352.9 L78.6,351.8 L78.6,350.9 L78.7,350.0 L78.7,349.3 L78.7,348.8 L78.7,348.4 L78.6,347.9 L78.6,347.4 L78.7,346.6 L78.9,345.5 L79.1,344.1 L79.5,342.2 L80.0,339.8 L80.5,337.0 L81.1,334.1 L81.8,331.2 L82.4,328.3 L83.0,325.6 L83.6,323.2 L84.1,321.1 L84.6,319.1 L85.1,317.2 L85.6,315.4 L86.0,313.7 L86.5,312.2 L86.9,310.8 L87.3,309.5 L87.7,308.5 L87.9,307.7 L88.2,307.0 L88.4,306.5 L88.7,306.0 L89.0,305.5 L89.4,304.9 L90.0,304.1 L90.7,303.2 L91.5,302.2 L92.3,301.1 L93.2,300.0 L94.2,298.8 L95.2,297.6 L96.3,296.3 L97.3,295.0 L98.4,293.5 L99.5,292.0 L100.7,290.3 L101.9,288.5 L103.1,286.8 L104.3,285.2 L105.4,283.7 L106.4,282.3 L107.3,281.1 L108.2,280.0 L109.0,279.0 L109.8,278.0 L110.5,277.2 L111.2,276.4 L112.0,275.7 L112.7,275.0 L113.4,274.4 L114.1,274.0 L114.8,273.6 L115.5,273.3 L116.1,273.0 L116.8,272.8 L117.5,272.5 L118.2,272.3 L118.9,272.1 L119.7,271.8 L120.4,271.6 L121.1,271.5 L121.9,271.3 L122.7,271.1 L123.6,271.0 L124.5,270.8 L125.5,270.6 L126.5,270.4 L127.5,270.3 L128.6,270.1 L129.8,269.9 L131.0,269.8 L132.3,269.6 L133.6,269.5 L135.0,269.4 L136.6,269.3 L138.2,269.2 L139.9,269.1 L141.6,269.0 L143.2,268.9 L144.9,268.8 L146.4,268.8 L147.8,268.8 L149.2,268.8 L150.5,268.8 L151.7,268.8 L153.0,268.8 L154.4,268.9 L155.8,268.9 L157.3,269.0 L158.9,269.1 L160.5,269.2 L162.1,269.3 L163.8,269.4 L165.6,269.6 L167.6,269.8 L169.7,270.0 L172.0,270.3 L174.6,270.6 L177.3,271.0 L180.3,271.4 L183.4,271.9 L186.6,272.4 L189.8,272.9 L192.9,273.4 L196.0,274.0 L199.1,274.6 L202.2,275.3 L205.4,276.0 L208.5,276.7 L211.6,277.5 L214.6,278.2 L217.4,278.9 L220.0,279.6 L222.4,280.2 L224.7,280.9 L226.8,281.5 L228.9,282.1 L230.8,282.7 L232.6,283.2 L234.3,283.7 L236.0,284.2 L237.6,284.7 L239.1,285.1 L240.5,285.5 L241.8,285.8 L243.0,286.2 L244.1,286.5 L245.1,286.8 L246.0,287.0 L246.7,287.2 L247.3,287.2 L247.7,287.3 L248.0,287.3 L248.3,287.3 L248.7,287.3 L249.3,287.4 L250.0,287.6 L250.9,287.9 L251.9,288.2 L253.0,288.6 L254.2,289.1 L255.5,289.5 L256.9,290.0 L258.4,290.5 L260.0,291.0 L261.8,291.5 L264.0,292.2 L266.3,292.8 L268.6,293.5 L270.9,294.2 L273.0,294.7 L274.7,295.2 L276.0,295.6" fill="none" stroke="#ff1010" stroke-width="2.0" stroke-linejoin="round" />
<path d="M78.3,357.0 L78.3,356.5 L78.4,355.7 L78.4,354.8 L78.5,353.9 L78.5,352.9 L78.6,351.8 L78.6,350.9 L78.7,350.0 L78.7,349.3 L78.7,348.8 L78.7,348.4 L78.6,347.9 L78.6,347.4 L78.7,346.6 L78.9,345.5 L79.1,344.1 L79.5,342.2 L80.0,339.8 L80.5,337.0 L81.1,334.1 L81.8,331.2 L82.4,328.3 L83.0,325.6 L83.6,323.2 L84.1,321.1 L84.6,319.1 L85.1,317.2 L85.6,315.4 L86.0,313.7 L86.5,312.2 L86.9,310.8 L87.3,309.5 L87.7,308.5 L87.9,307.7 L88.2,307.0 L88.4,306.5 L88.7,306.0 L89.0,305.5 L89.4,304.9 L90.0,304.1 L90.7,303.2 L91.5,302.2 L92.3,301.1 L93.2,300.0 L94.2,298.8 L95.2,297.6 L96.3,296.3 L97.3,295.0 L98.4,293.5 L99.5,292.0 L100.7,290.3 L101.9,288.5 L103.1,286.8 L104.3,285.2 L105.4,283.7 L106.4,282.3 L107.3,281.1 L108.2,280.0 L109.0,279.0 L109.8,278.0 L110.5,277.2 L111.2,276.4 L112.0,275.7 L112.7,275.0 L113.4,274.4 L114.1,274.0 L114.8,273.6 L115.5,273.3 L116.1,273.0 L116.8,272.8 L117.5,272.5 L118.2,272.3 L118.9,272.1 L119.7,271.8 L120.4,271.6 L121.1,271.4 L121.9,271.3 L122.7,271.1 L123.6,271.0 L124.5,271.0 L125.5,271.0 L126.5,271.1 L127.5,271.2 L128.6,271.3 L129.8,271.4 L131.0,271.6 L132.3,271.8 L133.6,271.9 L135.0,272.0 L136.6,272.2 L138.2,272.3 L139.9,272.5 L141.6,272.6 L143.2,272.8 L144.9,273.0 L146.4,273.2 L147.8,273.4 L149.2,273.7 L150.5,273.9 L151.7,274.2 L153.0,274.4 L154.4,274.7 L155.8,275.1 L157.3,275.5 L158.9,275.9 L160.5,276.4 L162.1,276.9 L163.8,277.4 L165.6,278.0 L167.6,278.6 L169.7,279.3 L172.0,280.0 L174.6,280.8 L177.3,281.6 L180.3,282.5 L183.4,283.4 L186.6,284.3 L189.8,285.3 L192.9,286.2 L196.0,287.2 L199.0,288.2 L202.0,289.1 L205.0,290.1 L208.0,291.1 L211.0,292.1 L214.0,293.1 L217.0,294.2 L220.0,295.2 L223.1,296.3 L226.2,297.4 L229.4,298.6 L232.5,299.8 L235.6,300.9 L238.6,302.0 L241.4,303.1 L244.0,304.0 L246.4,304.8 L248.6,305.6 L250.6,306.3 L252.5,306.9 L254.4,307.5 L256.2,308.1 L258.1,308.8 L260.0,309.5 L262.1,310.3 L264.4,311.2 L266.7,312.1 L269.0,313.0 L271.2,313.9 L273.1,314.7 L274.8,315.4 L276.0,315.9" fill="none" stroke="#10e010" stroke-width="2.1" stroke-linejoin="round" stroke-dasharray="2.3,5.4"/>
<path d="M128,309 L85.5,309 L85.5,262.6 L130.9,262.6 L130.9,306.5 L128,309" fill="none" stroke="#ff1010" stroke-width="1.3" stroke-dasharray="7.5,3.8"/>
<line x1="121" y1="286.8" x2="93" y2="286.8" stroke="#ff1010" stroke-width="1.6"/><polygon points="87.2,286.8 94.5,284.4 94.5,289.2" fill="#ff1010"/>
<linearGradient id="gp4" x1="0" y1="0" x2="0" y2="1"><stop offset="0" stop-color="#a7afb8"/><stop offset="0.2" stop-color="#8fa4bc"/><stop offset="0.3" stop-color="#1b64b4"/><stop offset="1" stop-color="#0c3f8c"/></linearGradient>
<linearGradient id="gp3" x1="0" y1="0" x2="0" y2="1"><stop offset="0" stop-color="#bdbcb0"/><stop offset="0.2" stop-color="#b0b4ae"/><stop offset="0.3" stop-color="#7699a8"/><stop offset="1" stop-color="#7a9ca6"/></linearGradient>
<linearGradient id="gp2" x1="0" y1="0" x2="0" y2="1"><stop offset="0" stop-color="#c3c9d2"/><stop offset="1" stop-color="#b6bfd2"/></linearGradient>
<linearGradient id="gp1" x1="0" y1="0" x2="0" y2="1"><stop offset="0" stop-color="#c3c8c1"/><stop offset="1" stop-color="#b4bab2"/></linearGradient>
<rect x="86.1" y="355" width="35.8" height="34.3" fill="url(#gp1)"/>
<circle cx="104.2" cy="375.8" r="13.6" fill="none" stroke="#20242c" stroke-width="1.0" opacity="0.8"/>
<circle cx="104.2" cy="375.8" r="10.2" fill="none" stroke="#20242c" stroke-width="0.7" opacity="0.56" stroke-dasharray="3,1.2"/>
<circle cx="104.2" cy="375.8" r="11.9" fill="none" stroke="#20242c" stroke-width="3" opacity="0.16"/>
<polygon points="98.0,373.4 110.4,373.4 104.2,383.4" fill="#14182a" opacity="0.92"/>
<path d="M94.2,372.6 Q99.2,368.3 104.2,371.8 Q109.2,368.3 114.2,372.6" fill="none" stroke="#20242c" stroke-width="1.0" opacity="0.8"/>
<text x="104" y="361.9" font-size="7.4" text-anchor="middle" textLength="23.6" lengthAdjust="spacingAndGlyphs" font-family="Liberation Serif, serif" font-weight="bold">+ 1.5 V</text>
<rect x="123.2" y="355" width="34.6" height="34.3" fill="url(#gp2)"/>
<circle cx="140.7" cy="375.8" r="13.6" fill="none" stroke="#4a5aa4" stroke-width="1.0" opacity="0.75"/>
<circle cx="140.7" cy="375.8" r="10.2" fill="none" stroke="#4a5aa4" stroke-width="0.7" opacity="0.52" stroke-dasharray="3,1.2"/>
<circle cx="140.7" cy="375.8" r="11.9" fill="none" stroke="#4a5aa4" stroke-width="3" opacity="0.16"/>
<polygon points="134.5,373.4 146.9,373.4 140.7,383.4" fill="#1a2270" opacity="0.92"/>
<path d="M130.7,372.6 Q135.7,368.3 140.7,371.8 Q145.7,368.3 150.7,372.6" fill="none" stroke="#4a5aa4" stroke-width="1.0" opacity="0.75"/>
<text x="140.2" y="361.9" font-size="7.4" text-anchor="middle" textLength="23.6" lengthAdjust="spacingAndGlyphs" font-family="Liberation Serif, serif" font-weight="bold">- 0.1 V</text>
<rect x="160.1" y="355" width="33.9" height="34.3" fill="url(#gp3)"/>
<circle cx="177.2" cy="375.8" r="13.6" fill="none" stroke="#2c4652" stroke-width="1.0" opacity="0.8"/>
<circle cx="177.2" cy="375.8" r="10.2" fill="none" stroke="#2c4652" stroke-width="0.7" opacity="0.56" stroke-dasharray="3,1.2"/>
<circle cx="177.2" cy="375.8" r="11.9" fill="none" stroke="#2c4652" stroke-width="3" opacity="0.16"/>
<polygon points="171.0,373.4 183.4,373.4 177.2,383.4" fill="#1c2c38" opacity="0.92"/>
<path d="M167.2,372.6 Q172.2,368.3 177.2,371.8 Q182.2,368.3 187.2,372.6" fill="none" stroke="#2c4652" stroke-width="1.0" opacity="0.8"/>
<text x="177.2" y="361.9" font-size="7.4" text-anchor="middle" textLength="23.6" lengthAdjust="spacingAndGlyphs" font-family="Liberation Serif, serif" font-weight="bold">- 0.5 V</text>
<rect x="196.5" y="355" width="34.4" height="34.3" fill="url(#gp4)"/>
<circle cx="213.9" cy="375.8" r="13.6" fill="none" stroke="#041848" stroke-width="1.0" opacity="0.9"/>
<circle cx="213.9" cy="375.8" r="10.2" fill="none" stroke="#041848" stroke-width="0.7" opacity="0.63" stroke-dasharray="3,1.2"/>
<circle cx="213.9" cy="375.8" r="11.9" fill="none" stroke="#041848" stroke-width="3" opacity="0.16"/>
<polygon points="207.7,373.4 220.1,373.4 213.9,383.4" fill="#02060f" opacity="0.92"/>
<path d="M203.9,372.6 Q208.9,368.3 213.9,371.8 Q218.9,368.3 223.9,372.6" fill="none" stroke="#041848" stroke-width="1.0" opacity="0.9"/>
<text x="213.8" y="361.9" font-size="7.4" text-anchor="middle" textLength="23.6" lengthAdjust="spacingAndGlyphs" font-family="Liberation Serif, serif" font-weight="bold">- 0.8 V</text>
<rect x="78.1" y="251.4" width="198.1" height="144.6" fill="none" stroke="#000" stroke-width="1.8"/>
<line x1="85.4" y1="396.0" x2="85.4" y2="393.0" stroke="#000" stroke-width="1.4" />
<line x1="100.7" y1="396.0" x2="100.7" y2="394.1" stroke="#000" stroke-width="1.4" />
<line x1="115.9" y1="396.0" x2="115.9" y2="393.0" stroke="#000" stroke-width="1.4" />
<line x1="131.2" y1="396.0" x2="131.2" y2="394.1" stroke="#000" stroke-width="1.4" />
<line x1="146.4" y1="396.0" x2="146.4" y2="393.0" stroke="#000" stroke-width="1.4" />
<line x1="161.7" y1="396.0" x2="161.7" y2="394.1" stroke="#000" stroke-width="1.4" />
<line x1="177.0" y1="396.0" x2="177.0" y2="393.0" stroke="#000" stroke-width="1.4" />
<line x1="192.2" y1="396.0" x2="192.2" y2="394.1" stroke="#000" stroke-width="1.4" />
<line x1="207.5" y1="396.0" x2="207.5" y2="393.0" stroke="#000" stroke-width="1.4" />
<line x1="222.7" y1="396.0" x2="222.7" y2="394.1" stroke="#000" stroke-width="1.4" />
<line x1="238.0" y1="396.0" x2="238.0" y2="393.0" stroke="#000" stroke-width="1.4" />
<line x1="253.3" y1="396.0" x2="253.3" y2="394.1" stroke="#000" stroke-width="1.4" />
<line x1="268.5" y1="396.0" x2="268.5" y2="393.0" stroke="#000" stroke-width="1.4" />
<line x1="78.1" y1="396.2" x2="81.1" y2="396.2" stroke="#000" stroke-width="1.4" />
<line x1="78.1" y1="381.7" x2="80.0" y2="381.7" stroke="#000" stroke-width="1.4" />
<line x1="78.1" y1="367.2" x2="81.1" y2="367.2" stroke="#000" stroke-width="1.4" />
<line x1="78.1" y1="352.7" x2="80.0" y2="352.7" stroke="#000" stroke-width="1.4" />
<line x1="78.1" y1="338.2" x2="81.1" y2="338.2" stroke="#000" stroke-width="1.4" />
<line x1="78.1" y1="323.8" x2="80.0" y2="323.8" stroke="#000" stroke-width="1.4" />
<line x1="78.1" y1="309.3" x2="81.1" y2="309.3" stroke="#000" stroke-width="1.4" />
<line x1="78.1" y1="294.8" x2="80.0" y2="294.8" stroke="#000" stroke-width="1.4" />
<line x1="78.1" y1="280.3" x2="81.1" y2="280.3" stroke="#000" stroke-width="1.4" />
<line x1="78.1" y1="265.8" x2="80.0" y2="265.8" stroke="#000" stroke-width="1.4" />
<line x1="78.1" y1="251.3" x2="81.1" y2="251.3" stroke="#000" stroke-width="1.4" />
<text x="85.5" y="409.4" font-size="11.3" text-anchor="middle" font-family="Liberation Serif, serif" font-weight="bold" >400</text>
<text x="116.0" y="409.4" font-size="11.3" text-anchor="middle" font-family="Liberation Serif, serif" font-weight="bold" >600</text>
<text x="146.5" y="409.4" font-size="11.3" text-anchor="middle" font-family="Liberation Serif, serif" font-weight="bold" >800</text>
<text x="177.1" y="409.4" font-size="11.3" text-anchor="middle" font-family="Liberation Serif, serif" font-weight="bold" >1000</text>
<text x="207.6" y="409.4" font-size="11.3" text-anchor="middle" font-family="Liberation Serif, serif" font-weight="bold" >1200</text>
<text x="238.1" y="409.4" font-size="11.3" text-anchor="middle" font-family="Liberation Serif, serif" font-weight="bold" >1400</text>
<text x="268.6" y="409.4" font-size="11.3" text-anchor="middle" font-family="Liberation Serif, serif" font-weight="bold" >1600</text>
<text x="73.2" y="399.8" font-size="11.3" text-anchor="end" font-family="Liberation Serif, serif" font-weight="bold" >0</text>
<text x="73.2" y="370.8" font-size="11.3" text-anchor="end" font-family="Liberation Serif, serif" font-weight="bold" >20</text>
<text x="73.2" y="341.8" font-size="11.3" text-anchor="end" font-family="Liberation Serif, serif" font-weight="bold" >40</text>
<text x="73.2" y="312.9" font-size="11.3" text-anchor="end" font-family="Liberation Serif, serif" font-weight="bold" >60</text>
<text x="73.2" y="283.9" font-size="11.3" text-anchor="end" font-family="Liberation Serif, serif" font-weight="bold" >80</text>
<text x="73.2" y="254.9" font-size="11.3" text-anchor="end" font-family="Liberation Serif, serif" font-weight="bold" >100</text>
<text x="177.0" y="427.3" font-size="11.5" text-anchor="middle" font-family="Liberation Serif, serif" font-weight="bold" >Wavelength (nm)</text>
<text transform="translate(45.4,329.3) rotate(-90)" font-size="11.6" text-anchor="middle" font-family="Liberation Serif, serif" font-weight="bold">Transmittance (%)</text>
<text x="269.8" y="283.0" font-size="11.5" text-anchor="end" font-family="Liberation Serif, serif" font-weight="bold" >+ 1.5 V</text>
<text x="269.8" y="308.2" font-size="11.5" text-anchor="end" font-family="Liberation Serif, serif" font-weight="bold" >- 0.1 V</text>
<text x="269.8" y="331.0" font-size="11.5" text-anchor="end" font-family="Liberation Serif, serif" font-weight="bold" >- 0.5 V</text>
<text x="269.8" y="357.0" font-size="11.5" text-anchor="end" font-family="Liberation Serif, serif" font-weight="bold" >- 0.8 V</text>
<text x="31.8" y="260.5" font-size="18.5" text-anchor="middle" font-family="Liberation Serif, serif" font-weight="bold" >(c)</text>
</g>
<g id="pd">
<rect x="336" y="254.2" width="46" height="136.4" fill="none" stroke="#1a1aff" stroke-width="1.5" stroke-dasharray="6,3,1.5,3"/>
<line x1="358.6" y1="267" x2="358.6" y2="394" stroke="#ff2020" stroke-width="1.1" stroke-dasharray="4,3"/>
<path d="M330.3,382.2 L330.9,382.5 L331.5,382.5 L332.0,382.8 L332.6,382.9 L333.2,382.7 L333.8,382.7 L334.3,383.4 L334.9,383.1 L335.5,383.2 L336.1,383.8 L336.7,383.5 L337.2,383.9 L337.8,383.7 L338.4,383.8 L339.0,383.6 L339.5,384.0 L340.1,384.2 L340.7,384.0 L341.3,384.2 L341.9,384.1 L342.4,383.7 L343.0,384.2 L343.6,384.1 L344.2,383.9 L344.7,383.7 L345.3,384.2 L345.9,383.9 L346.5,384.0 L347.1,384.1 L347.6,383.9 L348.2,384.0 L348.8,383.5 L349.4,383.7 L349.9,383.4 L350.5,383.7 L351.1,383.5 L351.7,382.9 L352.2,382.8 L352.8,382.8 L353.4,383.2 L354.0,382.8 L354.6,382.8 L355.1,382.5 L355.7,382.6 L356.3,382.4 L356.9,382.3 L357.4,382.4 L358.0,382.3 L358.6,382.4 L359.2,382.1 L359.8,382.2 L360.3,382.1 L360.9,382.1 L361.5,381.7 L362.1,381.3 L362.6,381.6 L363.2,381.6 L363.8,381.5 L364.4,381.1 L365.0,381.1 L365.5,380.6 L366.1,380.9 L366.7,380.4 L367.3,379.7 L367.8,379.0 L368.4,379.3 L369.0,379.5 L369.6,379.2 L370.2,380.0 L370.7,379.9 L371.3,379.7 L371.9,379.8 L372.5,380.0 L373.0,380.0 L373.6,379.3 L374.2,379.5 L374.8,378.9 L375.4,379.0 L375.9,378.1 L376.5,376.8 L377.1,370.6 L377.7,360.3 L378.2,360.7 L378.8,370.3 L379.4,376.6 L380.0,378.8 L380.6,379.1 L381.1,379.8 L381.7,380.4 L382.3,380.9 L382.9,381.0 L383.4,381.2 L384.0,382.0 L384.6,381.9 L385.2,382.5 L385.7,382.6 L386.3,382.4 L386.9,382.7 L387.5,382.9 L388.1,383.1 L388.6,383.2 L389.2,383.3 L389.8,383.5 L390.4,383.8 L390.9,383.6 L391.5,383.6 L392.1,383.9 L392.7,383.7 L393.3,383.8 L393.8,384.3 L394.4,384.1 L395.0,384.2 L395.6,383.8 L396.1,384.2 L396.7,384.3 L397.3,383.7 L397.9,383.6 L398.5,383.0 L399.0,382.4 L399.6,383.1 L400.2,383.7 L400.8,384.4 L401.3,384.4 L401.9,384.8 L402.5,384.8 L403.1,384.3 L403.7,384.4 L404.2,384.8 L404.8,385.0 L405.4,384.5 L406.0,384.6 L406.5,384.6 L407.1,384.3 L407.7,384.1 L408.3,383.7 L408.9,383.0 L409.4,380.2 L410.0,372.1 L410.6,366.4 L411.2,372.5 L411.7,379.9 L412.3,383.3 L412.9,384.2 L413.5,384.3 L414.1,384.5 L414.6,385.0 L415.2,384.8 L415.8,384.8 L416.4,385.1 L416.9,385.3 L417.5,385.0 L418.1,385.1 L418.7,385.2 L419.3,385.6 L419.8,385.3 L420.4,385.6 L421.0,385.1 L421.6,385.3 L422.1,385.5 L422.7,385.7 L423.3,385.4 L423.9,385.2 L424.4,385.2 L425.0,385.5 L425.6,385.2 L426.2,385.7 L426.8,385.7 L427.3,385.3 L427.9,385.3 L428.5,385.7 L429.1,385.6 L429.6,385.7 L430.2,385.4 L430.8,385.3 L431.4,385.4 L432.0,385.7 L432.5,385.4 L433.1,385.4 L433.7,385.5 L434.3,385.5 L434.8,385.5 L435.4,385.9 L436.0,385.3 L436.6,385.2 L437.2,385.9 L437.7,385.8 L438.3,385.9 L438.9,385.5 L439.5,385.9 L440.0,385.9 L440.6,385.4 L441.2,385.8 L441.8,385.8 L442.4,385.7 L442.9,385.6 L443.5,385.4 L444.1,385.4 L444.7,385.3 L445.2,385.2 L445.8,385.5 L446.4,385.3 L447.0,385.6 L447.6,384.9 L448.1,385.3 L448.7,384.5 L449.3,382.5 L449.9,379.6 L450.4,379.6 L451.0,382.3 L451.6,384.0 L452.2,385.2 L452.8,385.1 L453.3,385.3 L453.9,385.6 L454.5,385.6 L455.1,385.5 L455.6,385.9 L456.2,385.7 L456.8,385.5 L457.4,385.1 L457.9,385.1 L458.5,384.3 L459.1,384.3 L459.7,384.2 L460.3,384.7 L460.8,385.4 L461.4,385.9 L462.0,385.5 L462.6,386.0 L463.1,386.1 L463.7,386.0 L464.3,386.1 L464.9,385.5 L465.5,385.9 L466.0,386.1 L466.6,385.6 L467.2,385.7 L467.8,385.7 L468.3,385.9 L468.9,385.8 L469.5,385.9 L470.1,386.1 L470.7,385.6 L471.2,385.6 L471.8,385.7 L472.4,385.7 L473.0,385.6 L473.5,386.3 L474.1,386.2 L474.7,385.7 L475.3,385.9 L475.9,385.7 L476.4,385.5 L477.0,385.2 L477.6,384.9 L478.2,384.3 L478.7,383.7 L479.3,383.4 L479.9,383.7 L480.5,384.0 L481.1,384.9 L481.6,385.5 L482.2,385.6 L482.8,385.6 L483.4,385.8 L483.9,385.9 L484.5,386.1 L485.1,386.2 L485.7,386.0 L486.3,386.2 L486.8,386.1 L487.4,385.8 L488.0,385.6 L488.6,385.3 L489.1,385.0 L489.7,384.4 L490.3,384.3 L490.9,384.0 L491.5,384.0 L492.0,384.5 L492.6,385.1 L493.2,385.1 L493.8,385.6 L494.3,385.9 L494.9,386.3 L495.5,386.4 L496.1,386.1 L496.6,386.4 L497.2,386.4 L497.8,386.0 L498.4,386.2 L499.0,385.9 L499.5,386.4 L500.1,386.3 L500.7,386.5 L501.3,386.4 L501.8,386.3 L502.4,386.4 L503.0,386.3 L503.6,386.0 L504.2,386.3 L504.7,385.9 L505.3,386.0 L505.9,386.4 L506.5,385.9 L507.0,386.0 L507.6,386.0 L508.2,386.5 L508.8,386.1 L509.4,385.9 L509.9,386.5 L510.5,386.0 L511.1,386.5 L511.7,386.4 L512.2,386.5 L512.8,386.6 L513.4,386.4 L514.0,386.5 L514.6,386.0 L515.1,386.5 L515.7,386.4 L516.3,386.5 L516.9,386.1 L517.4,386.5 L518.0,386.7 L518.6,386.1 L519.2,386.3 L519.8,386.4 L520.3,386.6 L520.9,386.2 L521.5,386.2 L522.1,386.2 L522.6,386.5 L523.2,386.6 L523.8,386.3 L524.4,386.3 L525.0,386.3 L525.5,386.3 L526.1,386.3 L526.7,385.8 L527.3,385.8 L527.8,385.9 L528.4,385.5 L529.0,386.0 L529.6,385.9 L530.1,386.5 L530.7,386.6 L531.3,386.6 L531.9,386.5 L532.5,386.5" fill="none" stroke="#000" stroke-width="1.7" stroke-linejoin="round" />
<path d="M330.3,358.5 L330.9,358.7 L331.5,358.2 L332.0,358.2 L332.6,358.7 L333.2,358.8 L333.8,358.6 L334.3,358.6 L334.9,358.8 L335.5,358.5 L336.1,358.5 L336.7,358.5 L337.2,358.8 L337.8,358.7 L338.4,358.6 L339.0,359.0 L339.5,359.2 L340.1,358.8 L340.7,359.1 L341.3,358.9 L341.9,359.2 L342.4,359.0 L343.0,358.8 L343.6,358.8 L344.2,358.7 L344.7,359.0 L345.3,358.9 L345.9,358.7 L346.5,358.8 L347.1,358.8 L347.6,359.1 L348.2,358.6 L348.8,359.1 L349.4,358.7 L349.9,358.8 L350.5,358.6 L351.1,358.8 L351.7,358.7 L352.2,358.5 L352.8,358.4 L353.4,358.5 L354.0,358.5 L354.6,358.1 L355.1,358.3 L355.7,358.4 L356.3,358.0 L356.9,357.8 L357.4,357.7 L358.0,358.0 L358.6,358.0 L359.2,358.1 L359.8,358.0 L360.3,357.5 L360.9,357.4 L361.5,357.4 L362.1,357.3 L362.6,357.6 L363.2,357.7 L363.8,357.7 L364.4,357.2 L365.0,357.5 L365.5,357.1 L366.1,357.0 L366.7,357.0 L367.3,356.1 L367.8,355.6 L368.4,355.9 L369.0,355.6 L369.6,356.1 L370.2,356.6 L370.7,356.9 L371.3,356.4 L371.9,356.6 L372.5,356.7 L373.0,356.6 L373.6,356.3 L374.2,356.4 L374.8,356.4 L375.4,355.7 L375.9,355.2 L376.5,353.1 L377.1,346.7 L377.7,336.5 L378.2,336.2 L378.8,347.3 L379.4,354.0 L380.0,355.4 L380.6,356.7 L381.1,356.9 L381.7,357.7 L382.3,358.1 L382.9,358.2 L383.4,358.8 L384.0,359.0 L384.6,359.4 L385.2,359.2 L385.7,359.7 L386.3,360.0 L386.9,360.0 L387.5,360.0 L388.1,359.8 L388.6,360.2 L389.2,360.2 L389.8,360.6 L390.4,360.7 L390.9,360.7 L391.5,360.5 L392.1,360.9 L392.7,361.0 L393.3,360.7 L393.8,361.3 L394.4,361.2 L395.0,360.9 L395.6,361.5 L396.1,361.0 L396.7,361.1 L397.3,361.2 L397.9,360.6 L398.5,360.0 L399.0,359.8 L399.6,360.0 L400.2,360.6 L400.8,361.0 L401.3,361.2 L401.9,361.8 L402.5,361.8 L403.1,361.7 L403.7,361.8 L404.2,361.6 L404.8,361.5 L405.4,361.6 L406.0,361.9 L406.5,361.2 L407.1,361.4 L407.7,361.0 L408.3,361.1 L408.9,360.0 L409.4,357.2 L410.0,349.6 L410.6,344.1 L411.2,349.9 L411.7,357.3 L412.3,360.5 L412.9,360.8 L413.5,361.3 L414.1,361.4 L414.6,361.6 L415.2,362.2 L415.8,362.3 L416.4,362.0 L416.9,362.1 L417.5,362.3 L418.1,362.6 L418.7,362.7 L419.3,362.7 L419.8,362.6 L420.4,362.3 L421.0,362.5 L421.6,362.4 L422.1,362.7 L422.7,362.7 L423.3,362.5 L423.9,362.5 L424.4,362.9 L425.0,362.4 L425.6,363.0 L426.2,363.1 L426.8,363.1 L427.3,362.7 L427.9,362.9 L428.5,362.9 L429.1,362.9 L429.6,363.2 L430.2,363.0 L430.8,362.7 L431.4,363.1 L432.0,362.9 L432.5,363.0 L433.1,363.1 L433.7,362.6 L434.3,363.1 L434.8,363.1 L435.4,363.0 L436.0,363.0 L436.6,362.9 L437.2,362.8 L437.7,363.0 L438.3,362.7 L438.9,363.0 L439.5,363.1 L440.0,363.0 L440.6,363.1 L441.2,363.3 L441.8,363.3 L442.4,362.8 L442.9,363.2 L443.5,363.1 L444.1,362.7 L444.7,362.9 L445.2,362.8 L445.8,362.6 L446.4,362.9 L447.0,363.1 L447.6,362.5 L448.1,362.7 L448.7,361.9 L449.3,359.2 L449.9,356.5 L450.4,356.3 L451.0,359.8 L451.6,361.9 L452.2,362.7 L452.8,362.6 L453.3,363.1 L453.9,363.3 L454.5,363.3 L455.1,363.1 L455.6,363.3 L456.2,363.1 L456.8,362.8 L457.4,362.5 L457.9,362.1 L458.5,361.6 L459.1,361.4 L459.7,361.9 L460.3,362.6 L460.8,363.0 L461.4,363.2 L462.0,363.4 L462.6,363.2 L463.1,363.4 L463.7,363.6 L464.3,363.3 L464.9,363.2 L465.5,363.7 L466.0,363.6 L466.6,363.4 L467.2,363.4 L467.8,363.5 L468.3,363.5 L468.9,363.3 L469.5,363.1 L470.1,363.3 L470.7,363.7 L471.2,363.3 L471.8,363.5 L472.4,363.3 L473.0,363.3 L473.5,363.3 L474.1,363.5 L474.7,363.3 L475.3,363.2 L475.9,363.2 L476.4,363.1 L477.0,363.0 L477.6,362.2 L478.2,361.6 L478.7,361.4 L479.3,361.2 L479.9,361.6 L480.5,361.6 L481.1,362.5 L481.6,363.0 L482.2,363.0 L482.8,363.9 L483.4,363.5 L483.9,363.4 L484.5,363.7 L485.1,363.5 L485.7,363.8 L486.3,363.6 L486.8,363.4 L487.4,363.2 L488.0,363.5 L488.6,362.8 L489.1,362.8 L489.7,362.1 L490.3,362.1 L490.9,361.6 L491.5,361.7 L492.0,362.0 L492.6,362.9 L493.2,363.2 L493.8,363.3 L494.3,363.4 L494.9,363.9 L495.5,364.2 L496.1,363.9 L496.6,363.5 L497.2,363.6 L497.8,363.6 L498.4,363.7 L499.0,363.6 L499.5,363.6 L500.1,364.1 L500.7,364.2 L501.3,363.7 L501.8,364.3 L502.4,364.0 L503.0,364.2 L503.6,364.3 L504.2,364.3 L504.7,363.7 L505.3,363.9 L505.9,364.1 L506.5,364.3 L507.0,363.8 L507.6,363.9 L508.2,364.3 L508.8,363.8 L509.4,364.0 L509.9,364.0 L510.5,364.2 L511.1,364.4 L511.7,363.9 L512.2,364.3 L512.8,364.3 L513.4,364.4 L514.0,364.2 L514.6,364.4 L515.1,364.1 L515.7,364.1 L516.3,364.0 L516.9,364.4 L517.4,364.2 L518.0,364.0 L518.6,364.0 L519.2,364.4 L519.8,364.3 L520.3,364.4 L520.9,364.2 L521.5,364.2 L522.1,364.0 L522.6,364.4 L523.2,363.9 L523.8,364.3 L524.4,364.5 L525.0,364.4 L525.5,364.0 L526.1,364.0 L526.7,364.2 L527.3,363.8 L527.8,363.7 L528.4,363.7 L529.0,363.7 L529.6,364.3 L530.1,364.4 L530.7,364.2 L531.3,364.3 L531.9,364.1 L532.5,364.3" fill="none" stroke="#ff1010" stroke-width="1.7" stroke-linejoin="round" />
<path d="M330.3,333.3 L330.9,332.7 L331.5,333.1 L332.0,332.7 L332.6,332.7 L333.2,333.1 L333.8,332.9 L334.3,332.7 L334.9,332.8 L335.5,333.2 L336.1,333.1 L336.7,332.8 L337.2,332.9 L337.8,333.4 L338.4,332.9 L339.0,333.2 L339.5,333.1 L340.1,333.3 L340.7,333.2 L341.3,333.3 L341.9,333.1 L342.4,332.9 L343.0,332.8 L343.6,332.8 L344.2,333.3 L344.7,332.7 L345.3,332.6 L345.9,333.2 L346.5,332.6 L347.1,333.1 L347.6,332.4 L348.2,332.6 L348.8,332.4 L349.4,332.7 L349.9,332.4 L350.5,332.4 L351.1,332.3 L351.7,332.3 L352.2,331.8 L352.8,331.9 L353.4,331.7 L354.0,331.4 L354.6,331.8 L355.1,331.5 L355.7,331.6 L356.3,331.1 L356.9,331.2 L357.4,331.1 L358.0,331.2 L358.6,330.7 L359.2,330.8 L359.8,330.8 L360.3,330.5 L360.9,330.7 L361.5,330.8 L362.1,330.5 L362.6,330.6 L363.2,330.5 L363.8,330.2 L364.4,330.2 L365.0,330.6 L365.5,330.1 L366.1,330.0 L366.7,329.5 L367.3,329.2 L367.8,328.6 L368.4,328.9 L369.0,328.9 L369.6,329.5 L370.2,329.9 L370.7,329.8 L371.3,330.1 L371.9,329.8 L372.5,329.7 L373.0,330.0 L373.6,329.9 L374.2,329.8 L374.8,329.3 L375.4,329.2 L375.9,328.4 L376.5,326.8 L377.1,319.2 L377.7,306.7 L378.2,307.4 L378.8,319.4 L379.4,327.3 L380.0,330.2 L380.6,330.8 L381.1,331.6 L381.7,332.3 L382.3,332.3 L382.9,333.2 L383.4,333.2 L384.0,333.6 L384.6,333.8 L385.2,334.3 L385.7,334.5 L386.3,334.4 L386.9,334.4 L387.5,334.7 L388.1,334.9 L388.6,334.8 L389.2,335.0 L389.8,335.5 L390.4,335.6 L390.9,335.9 L391.5,336.0 L392.1,336.0 L392.7,335.8 L393.3,335.7 L393.8,335.9 L394.4,336.1 L395.0,336.2 L395.6,336.3 L396.1,336.3 L396.7,336.6 L397.3,336.1 L397.9,335.8 L398.5,335.5 L399.0,335.2 L399.6,335.2 L400.2,335.9 L400.8,336.9 L401.3,336.6 L401.9,336.8 L402.5,337.2 L403.1,337.2 L403.7,337.0 L404.2,337.0 L404.8,337.1 L405.4,337.5 L406.0,337.3 L406.5,337.6 L407.1,337.5 L407.7,337.5 L408.3,336.6 L408.9,336.2 L409.4,333.7 L410.0,327.8 L410.6,323.1 L411.2,327.6 L411.7,334.2 L412.3,336.3 L412.9,337.2 L413.5,337.4 L414.1,338.0 L414.6,337.9 L415.2,338.0 L415.8,337.9 L416.4,338.3 L416.9,338.5 L417.5,338.6 L418.1,338.8 L418.7,338.8 L419.3,338.4 L419.8,338.3 L420.4,338.8 L421.0,338.9 L421.6,338.7 L422.1,338.9 L422.7,338.8 L423.3,338.6 L423.9,338.5 L424.4,338.4 L425.0,338.9 L425.6,339.1 L426.2,339.1 L426.8,338.8 L427.3,338.9 L427.9,339.1 L428.5,339.1 L429.1,338.9 L429.6,338.8 L430.2,338.9 L430.8,338.7 L431.4,338.7 L432.0,339.0 L432.5,339.3 L433.1,339.0 L433.7,338.9 L434.3,338.8 L434.8,338.9 L435.4,339.2 L436.0,338.9 L436.6,339.3 L437.2,338.7 L437.7,338.9 L438.3,339.0 L438.9,338.9 L439.5,339.3 L440.0,339.2 L440.6,339.3 L441.2,339.1 L441.8,338.7 L442.4,339.1 L442.9,339.0 L443.5,339.0 L444.1,338.8 L444.7,339.1 L445.2,339.2 L445.8,338.6 L446.4,339.0 L447.0,338.7 L447.6,338.7 L448.1,338.8 L448.7,338.1 L449.3,335.8 L449.9,332.5 L450.4,333.1 L451.0,335.5 L451.6,337.8 L452.2,338.8 L452.8,338.6 L453.3,338.7 L453.9,339.3 L454.5,339.3 L455.1,339.0 L455.6,339.0 L456.2,339.0 L456.8,338.8 L457.4,338.6 L457.9,338.7 L458.5,337.5 L459.1,337.4 L459.7,337.6 L460.3,338.1 L460.8,338.9 L461.4,339.3 L462.0,339.5 L462.6,339.4 L463.1,339.6 L463.7,339.0 L464.3,339.2 L464.9,339.7 L465.5,339.1 L466.0,339.2 L466.6,339.4 L467.2,339.2 L467.8,339.4 L468.3,339.1 L468.9,339.2 L469.5,339.8 L470.1,339.2 L470.7,339.7 L471.2,339.2 L471.8,339.8 L472.4,339.6 L473.0,339.6 L473.5,339.2 L474.1,339.2 L474.7,339.7 L475.3,339.2 L475.9,339.2 L476.4,339.4 L477.0,339.1 L477.6,338.1 L478.2,338.1 L478.7,337.4 L479.3,337.1 L479.9,337.1 L480.5,337.8 L481.1,338.8 L481.6,338.8 L482.2,339.0 L482.8,339.2 L483.4,339.3 L483.9,339.5 L484.5,339.9 L485.1,339.3 L485.7,339.4 L486.3,339.9 L486.8,339.9 L487.4,339.8 L488.0,339.0 L488.6,338.8 L489.1,338.8 L489.7,338.0 L490.3,337.9 L490.9,337.5 L491.5,337.4 L492.0,338.0 L492.6,338.7 L493.2,339.2 L493.8,339.3 L494.3,339.5 L494.9,339.7 L495.5,339.7 L496.1,339.8 L496.6,340.0 L497.2,339.6 L497.8,339.8 L498.4,340.1 L499.0,340.0 L499.5,339.6 L500.1,340.1 L500.7,340.1 L501.3,339.6 L501.8,339.7 L502.4,339.6 L503.0,339.5 L503.6,340.2 L504.2,339.8 L504.7,340.1 L505.3,339.6 L505.9,339.5 L506.5,340.1 L507.0,340.1 L507.6,340.2 L508.2,340.0 L508.8,339.9 L509.4,340.1 L509.9,339.6 L510.5,340.0 L511.1,339.9 L511.7,339.7 L512.2,340.0 L512.8,339.8 L513.4,340.0 L514.0,339.9 L514.6,339.9 L515.1,339.9 L515.7,340.1 L516.3,340.3 L516.9,340.3 L517.4,340.3 L518.0,340.3 L518.6,339.9 L519.2,340.4 L519.8,339.9 L520.3,339.8 L520.9,340.1 L521.5,340.2 L522.1,340.0 L522.6,340.2 L523.2,339.9 L523.8,340.4 L524.4,340.1 L525.0,340.1 L525.5,340.1 L526.1,340.3 L526.7,340.1 L527.3,339.5 L527.8,339.2 L528.4,339.4 L529.0,339.2 L529.6,339.8 L530.1,340.3 L530.7,340.3 L531.3,339.9 L531.9,340.4 L532.5,340.1" fill="none" stroke="#1010ff" stroke-width="1.7" stroke-linejoin="round" />
<path d="M330.3,305.3 L330.9,304.8 L331.5,304.6 L332.0,304.7 L332.6,304.9 L333.2,304.5 L333.8,304.7 L334.3,304.5 L334.9,304.1 L335.5,304.0 L336.1,304.0 L336.7,303.9 L337.2,303.8 L337.8,303.8 L338.4,303.9 L339.0,303.6 L339.5,303.2 L340.1,303.1 L340.7,303.1 L341.3,303.2 L341.9,302.8 L342.4,302.6 L343.0,302.7 L343.6,302.5 L344.2,302.2 L344.7,302.5 L345.3,302.6 L345.9,302.2 L346.5,302.2 L347.1,302.1 L347.6,301.9 L348.2,301.8 L348.8,301.3 L349.4,301.2 L349.9,300.6 L350.5,300.9 L351.1,300.4 L351.7,300.2 L352.2,300.3 L352.8,299.7 L353.4,299.4 L354.0,299.7 L354.6,299.3 L355.1,298.8 L355.7,298.5 L356.3,298.6 L356.9,298.3 L357.4,298.8 L358.0,298.3 L358.6,298.5 L359.2,298.6 L359.8,298.8 L360.3,298.9 L360.9,299.2 L361.5,299.4 L362.1,299.4 L362.6,299.3 L363.2,300.1 L363.8,300.1 L364.4,299.9 L365.0,300.3 L365.5,300.6 L366.1,300.9 L366.7,300.2 L367.3,300.0 L367.8,300.2 L368.4,300.1 L369.0,300.8 L369.6,301.3 L370.2,301.4 L370.7,301.8 L371.3,302.2 L371.9,302.6 L372.5,302.2 L373.0,302.5 L373.6,302.4 L374.2,302.9 L374.8,302.6 L375.4,303.2 L375.9,302.7 L376.5,301.5 L377.1,296.0 L377.7,287.7 L378.2,288.2 L378.8,297.4 L379.4,302.8 L380.0,304.4 L380.6,305.7 L381.1,306.0 L381.7,306.4 L382.3,306.6 L382.9,306.9 L383.4,307.6 L384.0,307.2 L384.6,307.7 L385.2,307.9 L385.7,307.8 L386.3,308.2 L386.9,308.4 L387.5,308.5 L388.1,308.5 L388.6,308.2 L389.2,308.1 L389.8,308.5 L390.4,308.4 L390.9,308.4 L391.5,309.0 L392.1,308.6 L392.7,309.0 L393.3,309.2 L393.8,308.7 L394.4,309.3 L395.0,309.0 L395.6,308.9 L396.1,308.9 L396.7,308.8 L397.3,309.0 L397.9,308.6 L398.5,308.5 L399.0,308.2 L399.6,308.0 L400.2,308.9 L400.8,309.4 L401.3,309.5 L401.9,309.6 L402.5,309.7 L403.1,310.1 L403.7,309.9 L404.2,309.9 L404.8,310.0 L405.4,310.2 L406.0,310.3 L406.5,310.1 L407.1,310.5 L407.7,310.1 L408.3,310.3 L408.9,310.0 L409.4,308.1 L410.0,304.3 L410.6,301.0 L411.2,304.3 L411.7,308.7 L412.3,310.4 L412.9,310.8 L413.5,310.8 L414.1,311.5 L414.6,311.7 L415.2,311.6 L415.8,311.7 L416.4,311.6 L416.9,312.2 L417.5,312.1 L418.1,311.9 L418.7,312.4 L419.3,312.5 L419.8,312.2 L420.4,312.7 L421.0,312.4 L421.6,312.2 L422.1,312.7 L422.7,312.5 L423.3,312.8 L423.9,312.8 L424.4,312.5 L425.0,312.9 L425.6,313.1 L426.2,312.9 L426.8,313.0 L427.3,313.3 L427.9,313.1 L428.5,313.1 L429.1,313.2 L429.6,313.5 L430.2,313.1 L430.8,313.0 L431.4,313.5 L432.0,313.4 L432.5,313.3 L433.1,313.7 L433.7,313.8 L434.3,313.6 L434.8,313.9 L435.4,313.8 L436.0,313.8 L436.6,313.5 L437.2,313.3 L437.7,313.8 L438.3,313.9 L438.9,313.6 L439.5,313.8 L440.0,313.8 L440.6,313.6 L441.2,314.0 L441.8,313.9 L442.4,313.8 L442.9,313.6 L443.5,313.9 L444.1,313.8 L444.7,314.1 L445.2,313.7 L445.8,313.8 L446.4,313.7 L447.0,313.8 L447.6,313.8 L448.1,313.4 L448.7,312.9 L449.3,311.7 L449.9,309.4 L450.4,309.6 L451.0,311.5 L451.6,313.0 L452.2,313.8 L452.8,314.2 L453.3,314.3 L453.9,314.1 L454.5,314.1 L455.1,313.9 L455.6,314.0 L456.2,314.1 L456.8,314.5 L457.4,313.7 L457.9,313.9 L458.5,313.2 L459.1,312.9 L459.7,313.0 L460.3,314.0 L460.8,313.8 L461.4,314.4 L462.0,314.4 L462.6,314.2 L463.1,314.3 L463.7,314.8 L464.3,314.7 L464.9,314.6 L465.5,314.8 L466.0,314.2 L466.6,314.7 L467.2,314.7 L467.8,314.4 L468.3,314.5 L468.9,314.9 L469.5,314.5 L470.1,314.8 L470.7,314.4 L471.2,314.7 L471.8,314.5 L472.4,314.6 L473.0,314.6 L473.5,314.9 L474.1,314.8 L474.7,314.7 L475.3,314.8 L475.9,314.5 L476.4,314.7 L477.0,314.0 L477.6,313.8 L478.2,313.4 L478.7,312.9 L479.3,312.5 L479.9,312.8 L480.5,313.5 L481.1,313.6 L481.6,314.4 L482.2,314.5 L482.8,315.0 L483.4,315.0 L483.9,315.0 L484.5,314.7 L485.1,314.5 L485.7,314.9 L486.3,315.0 L486.8,315.1 L487.4,314.5 L488.0,314.3 L488.6,314.6 L489.1,314.1 L489.7,313.6 L490.3,313.5 L490.9,313.0 L491.5,313.4 L492.0,313.7 L492.6,314.0 L493.2,314.1 L493.8,314.3 L494.3,314.9 L494.9,315.1 L495.5,314.7 L496.1,314.6 L496.6,314.7 L497.2,315.2 L497.8,314.9 L498.4,315.0 L499.0,315.4 L499.5,315.1 L500.1,314.9 L500.7,315.2 L501.3,314.7 L501.8,314.9 L502.4,315.2 L503.0,314.8 L503.6,314.7 L504.2,315.1 L504.7,315.0 L505.3,315.4 L505.9,314.8 L506.5,315.3 L507.0,315.0 L507.6,315.3 L508.2,315.1 L508.8,315.2 L509.4,315.0 L509.9,314.9 L510.5,315.1 L511.1,315.4 L511.7,315.0 L512.2,315.0 L512.8,315.1 L513.4,314.9 L514.0,315.1 L514.6,315.2 L515.1,315.2 L515.7,315.3 L516.3,315.1 L516.9,314.9 L517.4,314.9 L518.0,315.1 L518.6,315.0 L519.2,315.3 L519.8,315.1 L520.3,315.4 L520.9,315.3 L521.5,315.4 L522.1,315.4 L522.6,315.3 L523.2,315.2 L523.8,315.2 L524.4,315.0 L525.0,315.5 L525.5,315.3 L526.1,314.9 L526.7,315.4 L527.3,314.9 L527.8,314.7 L528.4,314.6 L529.0,314.6 L529.6,315.4 L530.1,315.0 L530.7,315.3 L531.3,315.7 L531.9,315.1 L532.5,315.4" fill="none" stroke="#ff10e0" stroke-width="1.7" stroke-linejoin="round" />
<path d="M330.3,279.0 L330.9,278.6 L331.5,278.8 L332.0,278.2 L332.6,277.7 L333.2,277.8 L333.8,277.2 L334.3,277.4 L334.9,277.3 L335.5,277.1 L336.1,276.3 L336.7,276.5 L337.2,276.0 L337.8,275.8 L338.4,275.5 L339.0,275.3 L339.5,274.9 L340.1,275.0 L340.7,274.4 L341.3,274.8 L341.9,274.0 L342.4,274.4 L343.0,273.6 L343.6,273.3 L344.2,273.5 L344.7,273.1 L345.3,273.0 L345.9,272.6 L346.5,272.4 L347.1,271.8 L347.6,271.9 L348.2,271.5 L348.8,271.6 L349.4,270.7 L349.9,270.4 L350.5,270.6 L351.1,270.5 L351.7,269.9 L352.2,269.8 L352.8,269.5 L353.4,269.1 L354.0,268.9 L354.6,268.8 L355.1,268.1 L355.7,268.1 L356.3,268.2 L356.9,267.7 L357.4,267.8 L358.0,267.6 L358.6,267.8 L359.2,268.1 L359.8,268.4 L360.3,268.8 L360.9,268.8 L361.5,268.9 L362.1,269.3 L362.6,269.4 L363.2,269.9 L363.8,270.4 L364.4,270.8 L365.0,270.9 L365.5,271.2 L366.1,271.4 L366.7,271.6 L367.3,271.9 L367.8,271.7 L368.4,272.3 L369.0,272.5 L369.6,273.1 L370.2,273.8 L370.7,273.9 L371.3,274.8 L371.9,275.1 L372.5,275.1 L373.0,275.6 L373.6,275.5 L374.2,275.6 L374.8,275.8 L375.4,275.8 L375.9,275.9 L376.5,274.8 L377.1,269.5 L377.7,260.4 L378.2,261.3 L378.8,270.6 L379.4,276.5 L380.0,278.5 L380.6,279.3 L381.1,279.7 L381.7,280.4 L382.3,280.9 L382.9,281.3 L383.4,281.8 L384.0,281.5 L384.6,282.3 L385.2,282.4 L385.7,282.6 L386.3,283.0 L386.9,282.6 L387.5,283.2 L388.1,283.4 L388.6,283.1 L389.2,283.5 L389.8,283.9 L390.4,283.6 L390.9,284.1 L391.5,284.3 L392.1,284.1 L392.7,284.0 L393.3,284.2 L393.8,284.7 L394.4,284.5 L395.0,284.6 L395.6,284.8 L396.1,285.2 L396.7,284.8 L397.3,284.5 L397.9,284.9 L398.5,284.0 L399.0,283.9 L399.6,284.6 L400.2,284.8 L400.8,285.1 L401.3,286.0 L401.9,285.6 L402.5,285.7 L403.1,286.3 L403.7,285.9 L404.2,286.4 L404.8,286.0 L405.4,286.1 L406.0,286.0 L406.5,286.3 L407.1,286.2 L407.7,286.0 L408.3,285.9 L408.9,285.3 L409.4,283.9 L410.0,279.3 L410.6,275.7 L411.2,279.3 L411.7,283.5 L412.3,285.5 L412.9,286.0 L413.5,286.2 L414.1,287.0 L414.6,287.1 L415.2,287.2 L415.8,287.1 L416.4,286.8 L416.9,287.1 L417.5,286.9 L418.1,287.6 L418.7,287.2 L419.3,287.2 L419.8,287.7 L420.4,287.3 L421.0,287.8 L421.6,287.4 L422.1,287.7 L422.7,287.4 L423.3,288.0 L423.9,287.6 L424.4,287.6 L425.0,287.9 L425.6,287.9 L426.2,287.7 L426.8,287.6 L427.3,288.0 L427.9,287.6 L428.5,288.3 L429.1,287.9 L429.6,287.8 L430.2,288.0 L430.8,287.9 L431.4,288.0 L432.0,288.2 L432.5,288.2 L433.1,288.2 L433.7,288.2 L434.3,288.3 L434.8,288.6 L435.4,288.3 L436.0,288.6 L436.6,288.4 L437.2,288.2 L437.7,288.3 L438.3,288.8 L438.9,288.6 L439.5,288.5 L440.0,288.6 L440.6,288.9 L441.2,288.6 L441.8,288.6 L442.4,288.6 L442.9,288.4 L443.5,288.8 L444.1,288.8 L444.7,288.8 L445.2,288.8 L445.8,288.8 L446.4,288.9 L447.0,288.5 L447.6,289.0 L448.1,288.3 L448.7,288.3 L449.3,286.1 L449.9,284.2 L450.4,283.9 L451.0,286.2 L451.6,288.2 L452.2,289.0 L452.8,289.2 L453.3,289.3 L453.9,289.5 L454.5,288.9 L455.1,289.2 L455.6,289.1 L456.2,289.5 L456.8,289.3 L457.4,289.3 L457.9,289.0 L458.5,288.7 L459.1,288.3 L459.7,288.7 L460.3,288.9 L460.8,289.0 L461.4,289.8 L462.0,289.4 L462.6,289.4 L463.1,290.0 L463.7,289.6 L464.3,289.9 L464.9,289.5 L465.5,289.6 L466.0,290.0 L466.6,289.5 L467.2,289.9 L467.8,290.2 L468.3,289.7 L468.9,290.1 L469.5,290.1 L470.1,290.1 L470.7,290.2 L471.2,290.2 L471.8,289.7 L472.4,289.8 L473.0,290.1 L473.5,290.4 L474.1,289.9 L474.7,290.2 L475.3,289.9 L475.9,290.3 L476.4,289.9 L477.0,289.7 L477.6,289.4 L478.2,288.6 L478.7,288.6 L479.3,288.5 L479.9,288.8 L480.5,288.8 L481.1,289.2 L481.6,289.6 L482.2,290.4 L482.8,290.2 L483.4,290.3 L483.9,290.4 L484.5,290.5 L485.1,290.3 L485.7,290.3 L486.3,290.6 L486.8,290.6 L487.4,290.1 L488.0,289.8 L488.6,290.2 L489.1,289.7 L489.7,289.3 L490.3,288.9 L490.9,289.2 L491.5,288.9 L492.0,289.1 L492.6,289.4 L493.2,289.9 L493.8,290.3 L494.3,290.4 L494.9,290.9 L495.5,290.7 L496.1,290.6 L496.6,290.8 L497.2,290.8 L497.8,290.8 L498.4,290.7 L499.0,290.8 L499.5,290.8 L500.1,291.0 L500.7,290.6 L501.3,291.0 L501.8,290.7 L502.4,291.1 L503.0,290.5 L503.6,290.8 L504.2,290.8 L504.7,291.0 L505.3,290.7 L505.9,290.7 L506.5,290.7 L507.0,291.0 L507.6,291.0 L508.2,290.6 L508.8,290.7 L509.4,290.8 L509.9,291.3 L510.5,291.0 L511.1,291.1 L511.7,290.9 L512.2,291.2 L512.8,291.3 L513.4,291.2 L514.0,290.7 L514.6,291.1 L515.1,291.1 L515.7,290.8 L516.3,291.3 L516.9,291.0 L517.4,291.0 L518.0,291.3 L518.6,291.2 L519.2,291.2 L519.8,291.5 L520.3,291.2 L520.9,291.1 L521.5,290.9 L522.1,291.3 L522.6,291.2 L523.2,291.3 L523.8,291.2 L524.4,291.0 L525.0,291.0 L525.5,291.1 L526.1,291.0 L526.7,291.3 L527.3,290.9 L527.8,290.5 L528.4,290.9 L529.0,291.0 L529.6,290.9 L530.1,291.5 L530.7,291.2 L531.3,291.8 L531.9,291.2 L532.5,291.3" fill="none" stroke="#0b8a1c" stroke-width="1.7" stroke-linejoin="round" />
<rect x="330.3" y="251.5" width="202.1" height="143.6" fill="none" stroke="#000" stroke-width="1.8"/>
<line x1="344.7" y1="395.1" x2="344.7" y2="393.2" stroke="#000" stroke-width="1.4" />
<line x1="359.2" y1="395.1" x2="359.2" y2="392.1" stroke="#000" stroke-width="1.4" />
<line x1="373.6" y1="395.1" x2="373.6" y2="393.2" stroke="#000" stroke-width="1.4" />
<line x1="388.1" y1="395.1" x2="388.1" y2="392.1" stroke="#000" stroke-width="1.4" />
<line x1="402.5" y1="395.1" x2="402.5" y2="393.2" stroke="#000" stroke-width="1.4" />
<line x1="416.9" y1="395.1" x2="416.9" y2="392.1" stroke="#000" stroke-width="1.4" />
<line x1="431.4" y1="395.1" x2="431.4" y2="393.2" stroke="#000" stroke-width="1.4" />
<line x1="445.8" y1="395.1" x2="445.8" y2="392.1" stroke="#000" stroke-width="1.4" />
<line x1="460.3" y1="395.1" x2="460.3" y2="393.2" stroke="#000" stroke-width="1.4" />
<line x1="474.7" y1="395.1" x2="474.7" y2="392.1" stroke="#000" stroke-width="1.4" />
<line x1="489.1" y1="395.1" x2="489.1" y2="393.2" stroke="#000" stroke-width="1.4" />
<line x1="503.6" y1="395.1" x2="503.6" y2="392.1" stroke="#000" stroke-width="1.4" />
<line x1="518.0" y1="395.1" x2="518.0" y2="393.2" stroke="#000" stroke-width="1.4" />
<text x="330.6" y="408.5" font-size="11.3" text-anchor="middle" font-family="Liberation Serif, serif" font-weight="bold" >10</text>
<text x="359.5" y="408.5" font-size="11.3" text-anchor="middle" font-family="Liberation Serif, serif" font-weight="bold" >20</text>
<text x="388.4" y="408.5" font-size="11.3" text-anchor="middle" font-family="Liberation Serif, serif" font-weight="bold" >30</text>
<text x="417.2" y="408.5" font-size="11.3" text-anchor="middle" font-family="Liberation Serif, serif" font-weight="bold" >40</text>
<text x="446.1" y="408.5" font-size="11.3" text-anchor="middle" font-family="Liberation Serif, serif" font-weight="bold" >50</text>
<text x="475.0" y="408.5" font-size="11.3" text-anchor="middle" font-family="Liberation Serif, serif" font-weight="bold" >60</text>
<text x="503.9" y="408.5" font-size="11.3" text-anchor="middle" font-family="Liberation Serif, serif" font-weight="bold" >70</text>
<text x="532.8" y="408.5" font-size="11.3" text-anchor="middle" font-family="Liberation Serif, serif" font-weight="bold" >80</text>
<text x="431.5" y="427.0" font-size="11.5" text-anchor="middle" font-family="Liberation Serif, serif" font-weight="bold" >2 Theta (degree)</text>
<text transform="translate(316.2,330.3) rotate(-90)" font-size="11.5" text-anchor="middle" font-family="Liberation Serif, serif" font-weight="bold">Intensity (a.u.)</text>
<text x="519.5" y="284.6" font-size="11.5" text-anchor="end" font-family="Liberation Serif, serif" font-weight="bold" >-0.8 V</text>
<text x="519.5" y="311.2" font-size="11.5" text-anchor="end" font-family="Liberation Serif, serif" font-weight="bold" >-0.5 V</text>
<text x="519.5" y="336.4" font-size="11.5" text-anchor="end" font-family="Liberation Serif, serif" font-weight="bold" >-0.1 V</text>
<text x="521.5" y="360.5" font-size="11.5" text-anchor="end" font-family="Liberation Serif, serif" font-weight="bold" >+1.5 V</text>
<text x="527.6" y="380.6" font-size="11.5" text-anchor="end" font-family="Liberation Serif, serif" font-weight="bold" >as-prepared</text>
<text x="338.2" y="266.3" font-size="12" font-family="Liberation Serif, serif" font-weight="bold">Li<tspan font-size="7.5" dy="3.4">x</tspan><tspan dy="-3.4" dx="-0.8">WO</tspan><tspan font-size="7.5" dy="3.8">y</tspan></text>
<text x="310.0" y="263.0" font-size="18.5" text-anchor="middle" font-family="Liberation Serif, serif" font-weight="bold" >(d)</text>
</g>
<g id="pe">
<line x1="135.1" y1="455.3" x2="135.1" y2="592" stroke="#000" stroke-width="1.5" stroke-dasharray="1.6,3"/>
<line x1="140.2" y1="456.5" x2="140.2" y2="500" stroke="#000" stroke-width="1.5" stroke-dasharray="1.6,3"/>
<line x1="182.7" y1="452.7" x2="182.7" y2="592" stroke="#000" stroke-width="1.5" stroke-dasharray="1.6,3"/>
<line x1="186.9" y1="542" x2="186.9" y2="587" stroke="#000" stroke-width="1.5" stroke-dasharray="1.6,3"/>
<path d="M77.7,467.9 L86.2,467.9 L86.7,469.0 L87.0,500.0 L87.0,501.8 L87.1,504.2 L87.2,507.1 L87.3,510.4 L87.4,514.0 L87.5,518.0 L87.7,522.6 L87.8,527.8 L88.0,533.5 L88.2,539.1 L88.5,544.4 L88.7,548.9 L88.9,552.7 L89.2,556.1 L89.5,559.1 L89.7,561.8 L90.1,564.3 L90.4,566.6 L90.8,568.6 L91.2,570.4 L91.6,571.9 L92.0,573.2 L92.5,574.4 L93.0,575.4 L93.5,576.3 L94.0,577.0 L94.5,577.5 L95.1,577.9 L95.9,578.3 L96.8,578.7 L98.0,579.1 L99.3,579.5 L100.8,579.8 L102.4,580.0 L104.0,580.3 L105.6,580.5 L107.0,580.7 L108.3,580.8 L109.7,580.9 L111.1,581.0 L112.9,581.1 L115.0,581.2 L117.8,581.3 L121.4,581.5 L125.1,581.6 L128.8,581.7 L131.9,581.8 L134.1,581.9 L134.3,581.9 L134.4,540.0 L135.6,516.3 L135.7,513.3 L135.8,509.1 L135.9,504.1 L136.1,499.0 L136.2,494.4 L136.4,490.9 L136.6,488.6 L136.7,487.0 L136.9,485.9 L137.1,485.0 L137.4,484.2 L137.7,483.3 L138.1,482.2 L138.5,481.2 L139.0,480.2 L139.5,479.3 L140.1,478.5 L140.7,477.7 L141.4,477.0 L142.1,476.4 L142.8,475.9 L143.6,475.4 L144.6,474.9 L145.8,474.4 L147.2,473.8 L148.7,473.2 L150.4,472.6 L152.2,472.0 L154.1,471.5 L156.0,471.0 L158.0,470.6 L160.0,470.2 L162.2,469.8 L164.3,469.4 L166.5,469.1 L168.7,468.8 L171.0,468.5 L173.6,468.2 L176.1,467.9 L178.5,467.6 L180.5,467.4 L181.9,467.2 L182.7,468.0 L183.5,503.6 L183.6,506.5 L183.8,510.6 L183.9,515.5 L184.1,520.6 L184.3,525.6 L184.5,530.0 L184.7,533.9 L184.9,537.6 L185.0,541.1 L185.2,544.6 L185.4,547.8 L185.6,550.9 L185.8,553.8 L186.0,556.7 L186.2,559.3 L186.5,561.8 L186.7,564.1 L186.9,566.2 L187.1,568.1 L187.3,569.8 L187.5,571.4 L187.7,572.7 L187.9,574.0 L188.2,575.1 L188.5,576.1 L188.8,576.8 L189.2,577.4 L189.6,578.0 L190.1,578.4 L190.7,578.9 L191.3,579.3 L191.7,579.7 L192.3,580.0 L193.1,580.3 L194.2,580.5 L195.8,580.7 L198.0,580.9 L200.8,581.0 L203.9,581.1 L207.2,581.2 L210.5,581.3 L213.6,581.4 L216.7,581.5 L220.0,581.5 L223.4,581.6 L226.4,581.6 L229.0,581.7 L230.9,581.7 L231.2,581.7 L231.3,576.0 L231.4,506.0 L231.6,487.0 L231.8,484.7 L232.1,484.0 L232.4,482.9 L232.9,481.7 L233.3,480.5 L233.9,479.3 L234.4,478.3 L234.9,477.5 L235.4,476.8 L236.0,476.2 L236.6,475.6 L237.3,475.1 L238.2,474.5 L239.2,473.9 L240.3,473.3 L241.4,472.8 L242.7,472.2 L244.2,471.7 L245.8,471.2 L247.5,470.7 L249.4,470.3 L251.4,469.9 L253.6,469.5 L255.9,469.1 L258.5,468.7 L261.6,468.3 L265.3,468.0 L269.2,467.6 L272.9,467.3 L276.1,467.1 L278.3,466.9" fill="none" stroke="#ff1010" stroke-width="2.0" stroke-linejoin="round" />
<line x1="118.3" y1="478.7" x2="131.6" y2="478.7" stroke="#222" stroke-width="1.0" />
<polygon points="134.6,478.7 130.1,476.9 130.1,480.5" fill="#222"/>
<line x1="155.5" y1="478.7" x2="143.8" y2="478.7" stroke="#222" stroke-width="1.0" />
<polygon points="140.8,478.7 145.3,476.9 145.3,480.5" fill="#222"/>
<line x1="172.4" y1="568.7" x2="179.0" y2="568.7" stroke="#222" stroke-width="1.0" />
<polygon points="182.0,568.7 177.5,566.9 177.5,570.5" fill="#222"/>
<line x1="196.0" y1="568.7" x2="191.0" y2="568.7" stroke="#222" stroke-width="1.0" />
<polygon points="188.0,568.7 192.5,566.9 192.5,570.5" fill="#222"/>
<rect x="77.7" y="448.3" width="201.1" height="144.3" fill="none" stroke="#000" stroke-width="1.8"/>
<line x1="87.0" y1="592.6" x2="87.0" y2="589.8" stroke="#000" stroke-width="1.4" />
<line x1="134.8" y1="592.6" x2="134.8" y2="589.8" stroke="#000" stroke-width="1.4" />
<line x1="182.6" y1="592.6" x2="182.6" y2="589.8" stroke="#000" stroke-width="1.4" />
<line x1="230.4" y1="592.6" x2="230.4" y2="589.8" stroke="#000" stroke-width="1.4" />
<line x1="77.7" y1="592.9" x2="80.4" y2="592.9" stroke="#000" stroke-width="1.4" />
<line x1="77.7" y1="580.9" x2="79.4" y2="580.9" stroke="#000" stroke-width="1.4" />
<line x1="77.7" y1="568.8" x2="80.4" y2="568.8" stroke="#000" stroke-width="1.4" />
<line x1="77.7" y1="556.8" x2="79.4" y2="556.8" stroke="#000" stroke-width="1.4" />
<line x1="77.7" y1="544.7" x2="80.4" y2="544.7" stroke="#000" stroke-width="1.4" />
<line x1="77.7" y1="532.6" x2="79.4" y2="532.6" stroke="#000" stroke-width="1.4" />
<line x1="77.7" y1="520.6" x2="80.4" y2="520.6" stroke="#000" stroke-width="1.4" />
<line x1="77.7" y1="508.5" x2="79.4" y2="508.5" stroke="#000" stroke-width="1.4" />
<line x1="77.7" y1="496.5" x2="80.4" y2="496.5" stroke="#000" stroke-width="1.4" />
<line x1="77.7" y1="484.4" x2="79.4" y2="484.4" stroke="#000" stroke-width="1.4" />
<line x1="77.7" y1="472.4" x2="80.4" y2="472.4" stroke="#000" stroke-width="1.4" />
<line x1="77.7" y1="460.3" x2="79.4" y2="460.3" stroke="#000" stroke-width="1.4" />
<line x1="77.7" y1="448.3" x2="80.4" y2="448.3" stroke="#000" stroke-width="1.4" />
<text x="86.1" y="608.2" font-size="11.3" text-anchor="middle" font-family="Liberation Serif, serif" font-weight="bold" >0</text>
<text x="131.9" y="608.2" font-size="11.3" text-anchor="middle" font-family="Liberation Serif, serif" font-weight="bold" >30</text>
<text x="180.6" y="608.2" font-size="11.3" text-anchor="middle" font-family="Liberation Serif, serif" font-weight="bold" >60</text>
<text x="226.9" y="608.2" font-size="11.3" text-anchor="middle" font-family="Liberation Serif, serif" font-weight="bold" >90</text>
<text x="272.8" y="608.2" font-size="11.3" text-anchor="middle" font-family="Liberation Serif, serif" font-weight="bold" >120</text>
<text x="73.3" y="596.4" font-size="11.3" text-anchor="end" font-family="Liberation Serif, serif" font-weight="bold" >20</text>
<text x="73.3" y="572.3" font-size="11.3" text-anchor="end" font-family="Liberation Serif, serif" font-weight="bold" >30</text>
<text x="73.3" y="548.2" font-size="11.3" text-anchor="end" font-family="Liberation Serif, serif" font-weight="bold" >40</text>
<text x="73.3" y="524.1" font-size="11.3" text-anchor="end" font-family="Liberation Serif, serif" font-weight="bold" >50</text>
<text x="73.3" y="500.0" font-size="11.3" text-anchor="end" font-family="Liberation Serif, serif" font-weight="bold" >60</text>
<text x="73.3" y="475.9" font-size="11.3" text-anchor="end" font-family="Liberation Serif, serif" font-weight="bold" >70</text>
<text x="73.3" y="451.8" font-size="11.3" text-anchor="end" font-family="Liberation Serif, serif" font-weight="bold" >80</text>
<text x="178.5" y="625.5" font-size="11.5" text-anchor="middle" font-family="Liberation Serif, serif" font-weight="bold" >Time (s)</text>
<text transform="translate(50,525.5) rotate(-90)" font-size="11.5" text-anchor="middle" font-family="Liberation Serif, serif" font-weight="bold">Transmittance (%)</text>
<text x="91" y="494" font-size="11.5" font-family="Liberation Serif, serif" font-weight="bold">t<tspan font-size="7.5" dy="2.8">b</tspan><tspan dy="-2.8">= 3.6 s</tspan></text>
<text x="189.6" y="561.8" font-size="11.5" font-family="Liberation Serif, serif" font-weight="bold">t<tspan font-size="7.5" dy="2.8">c</tspan><tspan dy="-2.8">= 2.4 s</tspan></text>
<text x="36.6" y="451.0" font-size="18.5" text-anchor="middle" font-family="Liberation Serif, serif" font-weight="bold" >(e)</text>
</g>
<g id="pf">
<rect x="341.5" y="579.2" width="4" height="4" fill="#000"/>
<rect x="350.9" y="571.6" width="4" height="4" fill="#000"/>
<rect x="359.5" y="564.6" width="4" height="4" fill="#000"/>
<rect x="367.4" y="558.3" width="4" height="4" fill="#000"/>
<rect x="374.6" y="552.5" width="4" height="4" fill="#000"/>
<rect x="381.2" y="547.1" width="4" height="4" fill="#000"/>
<rect x="387.2" y="542.3" width="4" height="4" fill="#000"/>
<rect x="392.7" y="537.8" width="4" height="4" fill="#000"/>
<rect x="397.8" y="533.7" width="4" height="4" fill="#000"/>
<rect x="402.4" y="530.0" width="4" height="4" fill="#000"/>
<rect x="406.6" y="526.6" width="4" height="4" fill="#000"/>
<rect x="410.5" y="523.5" width="4" height="4" fill="#000"/>
<rect x="414.0" y="520.7" width="4" height="4" fill="#000"/>
<rect x="417.2" y="518.2" width="4" height="4" fill="#000"/>
<rect x="420.2" y="516.0" width="4" height="4" fill="#000"/>
<rect x="422.9" y="514.0" width="4" height="4" fill="#000"/>
<rect x="425.4" y="512.2" width="4" height="4" fill="#000"/>
<rect x="427.7" y="510.5" width="4" height="4" fill="#000"/>
<rect x="429.7" y="508.8" width="4" height="4" fill="#000"/>
<rect x="431.6" y="507.3" width="4" height="4" fill="#000"/>
<rect x="433.4" y="505.9" width="4" height="4" fill="#000"/>
<rect x="435.0" y="504.6" width="4" height="4" fill="#000"/>
<rect x="436.4" y="503.4" width="4" height="4" fill="#000"/>
<rect x="437.8" y="502.3" width="4" height="4" fill="#000"/>
<rect x="439.0" y="501.3" width="4" height="4" fill="#000"/>
<rect x="440.1" y="500.4" width="4" height="4" fill="#000"/>
<rect x="441.1" y="499.6" width="4" height="4" fill="#000"/>
<rect x="442.0" y="498.8" width="4" height="4" fill="#000"/>
<rect x="442.9" y="498.1" width="4" height="4" fill="#000"/>
<rect x="443.8" y="497.4" width="4" height="4" fill="#000"/>
<rect x="444.7" y="496.7" width="4" height="4" fill="#000"/>
<rect x="445.6" y="495.9" width="4" height="4" fill="#000"/>
<rect x="446.5" y="495.2" width="4" height="4" fill="#000"/>
<rect x="447.4" y="494.5" width="4" height="4" fill="#000"/>
<rect x="448.3" y="493.8" width="4" height="4" fill="#000"/>
<rect x="449.2" y="493.2" width="4" height="4" fill="#000"/>
<rect x="450.1" y="492.5" width="4" height="4" fill="#000"/>
<rect x="451.0" y="491.8" width="4" height="4" fill="#000"/>
<rect x="451.9" y="491.1" width="4" height="4" fill="#000"/>
<rect x="452.8" y="490.4" width="4" height="4" fill="#000"/>
<rect x="453.7" y="489.8" width="4" height="4" fill="#000"/>
<rect x="454.6" y="489.1" width="4" height="4" fill="#000"/>
<rect x="455.5" y="488.5" width="4" height="4" fill="#000"/>
<rect x="456.4" y="487.9" width="4" height="4" fill="#000"/>
<rect x="457.3" y="487.2" width="4" height="4" fill="#000"/>
<rect x="458.2" y="486.6" width="4" height="4" fill="#000"/>
<rect x="459.1" y="486.0" width="4" height="4" fill="#000"/>
<rect x="460.0" y="485.5" width="4" height="4" fill="#000"/>
<rect x="460.9" y="484.9" width="4" height="4" fill="#000"/>
<rect x="461.8" y="484.3" width="4" height="4" fill="#000"/>
<rect x="462.7" y="483.8" width="4" height="4" fill="#000"/>
<rect x="463.6" y="483.2" width="4" height="4" fill="#000"/>
<rect x="464.5" y="482.7" width="4" height="4" fill="#000"/>
<rect x="465.4" y="482.2" width="4" height="4" fill="#000"/>
<rect x="466.3" y="481.7" width="4" height="4" fill="#000"/>
<rect x="467.2" y="481.2" width="4" height="4" fill="#000"/>
<rect x="468.1" y="480.7" width="4" height="4" fill="#000"/>
<rect x="469.0" y="480.3" width="4" height="4" fill="#000"/>
<rect x="469.9" y="479.8" width="4" height="4" fill="#000"/>
<rect x="470.8" y="479.4" width="4" height="4" fill="#000"/>
<rect x="471.7" y="478.9" width="4" height="4" fill="#000"/>
<rect x="472.6" y="478.5" width="4" height="4" fill="#000"/>
<rect x="473.5" y="478.1" width="4" height="4" fill="#000"/>
<rect x="474.4" y="477.7" width="4" height="4" fill="#000"/>
<rect x="475.3" y="477.4" width="4" height="4" fill="#000"/>
<rect x="476.2" y="477.0" width="4" height="4" fill="#000"/>
<rect x="477.1" y="476.6" width="4" height="4" fill="#000"/>
<rect x="478.0" y="476.3" width="4" height="4" fill="#000"/>
<rect x="478.9" y="476.0" width="4" height="4" fill="#000"/>
<rect x="479.8" y="475.6" width="4" height="4" fill="#000"/>
<rect x="480.7" y="475.3" width="4" height="4" fill="#000"/>
<rect x="481.6" y="475.0" width="4" height="4" fill="#000"/>
<rect x="482.5" y="474.7" width="4" height="4" fill="#000"/>
<rect x="483.4" y="474.5" width="4" height="4" fill="#000"/>
<rect x="484.3" y="474.2" width="4" height="4" fill="#000"/>
<rect x="485.2" y="473.9" width="4" height="4" fill="#000"/>
<rect x="486.1" y="473.7" width="4" height="4" fill="#000"/>
<rect x="487.0" y="473.4" width="4" height="4" fill="#000"/>
<rect x="487.9" y="473.2" width="4" height="4" fill="#000"/>
<rect x="488.8" y="473.0" width="4" height="4" fill="#000"/>
<rect x="489.7" y="472.8" width="4" height="4" fill="#000"/>
<rect x="490.6" y="472.6" width="4" height="4" fill="#000"/>
<rect x="491.5" y="472.4" width="4" height="4" fill="#000"/>
<rect x="492.4" y="472.2" width="4" height="4" fill="#000"/>
<rect x="493.3" y="472.1" width="4" height="4" fill="#000"/>
<rect x="494.2" y="471.9" width="4" height="4" fill="#000"/>
<rect x="495.1" y="471.7" width="4" height="4" fill="#000"/>
<rect x="496.0" y="471.6" width="4" height="4" fill="#000"/>
<rect x="496.9" y="471.5" width="4" height="4" fill="#000"/>
<rect x="497.8" y="471.3" width="4" height="4" fill="#000"/>
<rect x="498.7" y="471.2" width="4" height="4" fill="#000"/>
<rect x="499.6" y="471.1" width="4" height="4" fill="#000"/>
<rect x="500.5" y="471.0" width="4" height="4" fill="#000"/>
<rect x="501.4" y="470.9" width="4" height="4" fill="#000"/>
<rect x="502.3" y="470.8" width="4" height="4" fill="#000"/>
<rect x="503.2" y="470.7" width="4" height="4" fill="#000"/>
<rect x="504.1" y="470.6" width="4" height="4" fill="#000"/>
<rect x="505.0" y="470.5" width="4" height="4" fill="#000"/>
<rect x="505.9" y="470.5" width="4" height="4" fill="#000"/>
<rect x="506.8" y="470.4" width="4" height="4" fill="#000"/>
<rect x="507.7" y="470.3" width="4" height="4" fill="#000"/>
<rect x="508.6" y="470.2" width="4" height="4" fill="#000"/>
<rect x="509.5" y="470.2" width="4" height="4" fill="#000"/>
<rect x="510.4" y="470.1" width="4" height="4" fill="#000"/>
<rect x="511.3" y="470.0" width="4" height="4" fill="#000"/>
<rect x="512.2" y="470.0" width="4" height="4" fill="#000"/>
<rect x="513.1" y="469.9" width="4" height="4" fill="#000"/>
<rect x="514.0" y="469.8" width="4" height="4" fill="#000"/>
<rect x="514.9" y="469.8" width="4" height="4" fill="#000"/>
<rect x="515.8" y="469.7" width="4" height="4" fill="#000"/>
<rect x="516.7" y="469.7" width="4" height="4" fill="#000"/>
<rect x="517.6" y="469.6" width="4" height="4" fill="#000"/>
<rect x="518.5" y="469.6" width="4" height="4" fill="#000"/>
<rect x="519.4" y="469.5" width="4" height="4" fill="#000"/>
<rect x="520.3" y="469.5" width="4" height="4" fill="#000"/>
<rect x="521.2" y="469.5" width="4" height="4" fill="#000"/>
<rect x="522.1" y="469.4" width="4" height="4" fill="#000"/>
<rect x="523.0" y="469.4" width="4" height="4" fill="#000"/>
<rect x="523.9" y="469.4" width="4" height="4" fill="#000"/>
<rect x="524.8" y="469.3" width="4" height="4" fill="#000"/>
<rect x="525.7" y="469.3" width="4" height="4" fill="#000"/>
<rect x="526.6" y="469.3" width="4" height="4" fill="#000"/>
<rect x="527.5" y="469.2" width="4" height="4" fill="#000"/>
<rect x="528.4" y="469.2" width="4" height="4" fill="#000"/>
<line x1="343.5" y1="581.2" x2="491.5" y2="461.7" stroke="#ff1010" stroke-width="1.4" />
<rect x="332.4" y="445.3" width="198.8" height="145.1" fill="none" stroke="#000" stroke-width="1.8"/>
<line x1="352.2" y1="590.4" x2="352.2" y2="588.6" stroke="#000" stroke-width="1.4" />
<line x1="372.3" y1="590.4" x2="372.3" y2="587.6" stroke="#000" stroke-width="1.4" />
<line x1="392.4" y1="590.4" x2="392.4" y2="588.6" stroke="#000" stroke-width="1.4" />
<line x1="412.4" y1="590.4" x2="412.4" y2="587.6" stroke="#000" stroke-width="1.4" />
<line x1="432.4" y1="590.4" x2="432.4" y2="588.6" stroke="#000" stroke-width="1.4" />
<line x1="452.5" y1="590.4" x2="452.5" y2="587.6" stroke="#000" stroke-width="1.4" />
<line x1="472.5" y1="590.4" x2="472.5" y2="588.6" stroke="#000" stroke-width="1.4" />
<line x1="492.6" y1="590.4" x2="492.6" y2="587.6" stroke="#000" stroke-width="1.4" />
<line x1="512.6" y1="590.4" x2="512.6" y2="588.6" stroke="#000" stroke-width="1.4" />
<line x1="332.4" y1="575.8" x2="335.2" y2="575.8" stroke="#000" stroke-width="1.4" />
<line x1="332.4" y1="546.8" x2="335.2" y2="546.8" stroke="#000" stroke-width="1.4" />
<line x1="332.4" y1="517.8" x2="335.2" y2="517.8" stroke="#000" stroke-width="1.4" />
<line x1="332.4" y1="488.8" x2="335.2" y2="488.8" stroke="#000" stroke-width="1.4" />
<line x1="332.4" y1="459.8" x2="335.2" y2="459.8" stroke="#000" stroke-width="1.4" />
<text x="331.8" y="604.0" font-size="11.3" text-anchor="middle" font-family="Liberation Serif, serif" font-weight="bold" >0</text>
<text x="371.9" y="604.0" font-size="11.3" text-anchor="middle" font-family="Liberation Serif, serif" font-weight="bold" >1</text>
<text x="412.0" y="604.0" font-size="11.3" text-anchor="middle" font-family="Liberation Serif, serif" font-weight="bold" >2</text>
<text x="452.1" y="604.0" font-size="11.3" text-anchor="middle" font-family="Liberation Serif, serif" font-weight="bold" >3</text>
<text x="492.2" y="604.0" font-size="11.3" text-anchor="middle" font-family="Liberation Serif, serif" font-weight="bold" >4</text>
<text x="531.3" y="604.0" font-size="11.3" text-anchor="middle" font-family="Liberation Serif, serif" font-weight="bold" >5</text>
<text x="328.4" y="579.4" font-size="11.3" text-anchor="end" font-family="Liberation Serif, serif" font-weight="bold" >0.1</text>
<text x="328.4" y="550.4" font-size="11.3" text-anchor="end" font-family="Liberation Serif, serif" font-weight="bold" >0.2</text>
<text x="328.4" y="521.4" font-size="11.3" text-anchor="end" font-family="Liberation Serif, serif" font-weight="bold" >0.3</text>
<text x="328.4" y="492.4" font-size="11.3" text-anchor="end" font-family="Liberation Serif, serif" font-weight="bold" >0.4</text>
<text x="328.4" y="463.4" font-size="11.3" text-anchor="end" font-family="Liberation Serif, serif" font-weight="bold" >0.5</text>
<text x="431.3" y="621.8" font-size="11.5" text-anchor="middle" font-family="Liberation Serif, serif" font-weight="bold" >ΔQ (mc/cm<tspan font-size="7.5" dy="-4">2</tspan><tspan dy="4">)</tspan></text>
<text transform="translate(308,526.2) rotate(-90)" font-size="11.5" text-anchor="middle" font-family="Liberation Serif, serif" font-weight="bold">ΔOD</text>
<text x="394" y="467" font-size="11.5" font-family="Liberation Serif, serif" font-weight="bold">CE=106.1 cm<tspan font-size="7.5" dy="-4.2">2</tspan><tspan dy="4.2">C</tspan><tspan font-size="7.5" dy="-4.2">-1</tspan></text>
<text x="297.5" y="452.0" font-size="18.5" text-anchor="middle" font-family="Liberation Serif, serif" font-weight="bold" >(f)</text>
</g>
</svg>
</body></html>
